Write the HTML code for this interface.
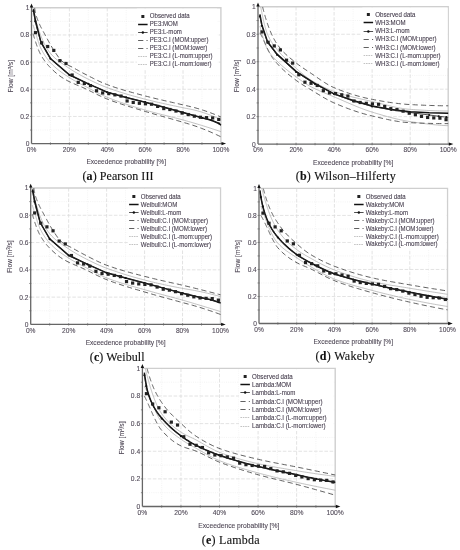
<!DOCTYPE html>
<html><head><meta charset="utf-8"><title>Flow duration curves</title><style>
html,body{margin:0;padding:0;background:#fff;}
svg{display:block;}
.gm{stroke:#ececec;stroke-width:0.6;stroke-dasharray:1 1.2;}
.gM{stroke:#d9d9d9;stroke-width:0.75;stroke-dasharray:3.6 1.6;}
.bd{fill:none;stroke:#cfcfcf;stroke-width:1.4;}
.ax{stroke:#666666;stroke-width:1.3;}
.tk{stroke:#666666;stroke-width:0.7;}
.tl{font-family:'Liberation Sans', Arial, sans-serif;fill:#514a58;stroke:#514a58;stroke-width:0.1px;}
.lg{font-family:'Liberation Sans', Arial, sans-serif;fill:#443c4c;stroke:#443c4c;stroke-width:0.1px;}
.cap{font-family:'Liberation Serif', 'Times New Roman', serif;font-size:12px;fill:#111;stroke:#111;stroke-width:0.12px;}
.ob{fill:#222;}
.mom{fill:none;stroke:#111;stroke-width:1.5;}
.lm{fill:none;stroke:#222;stroke-width:0.8;}
.dot{fill:#111;}
.cim{fill:none;stroke:#444;stroke-width:0.85;stroke-dasharray:5.2 3.2;}
.cil{fill:none;stroke:#9a9a9a;stroke-width:0.6;}
</style></head>
<body>
<svg width="460" height="550" viewBox="0 0 460 550">
<defs><clipPath id="clipPE3"><rect x="31.5" y="7.8" width="190.2" height="135.8"/></clipPath><clipPath id="clipWH3"><rect x="258" y="6.8" width="191" height="137.3"/></clipPath><clipPath id="clipWeibull"><rect x="30.7" y="188" width="190.6" height="136.4"/></clipPath><clipPath id="clipWakeby"><rect x="259" y="188.4" width="189.3" height="135.1"/></clipPath><clipPath id="clipLambda"><rect x="142.4" y="368.4" width="193.6" height="138.1"/></clipPath></defs>
<line x1="50.44" y1="7.8" x2="50.44" y2="143.6" class="gm"/>
<line x1="88.32" y1="7.8" x2="88.32" y2="143.6" class="gm"/>
<line x1="126.2" y1="7.8" x2="126.2" y2="143.6" class="gm"/>
<line x1="164.08" y1="7.8" x2="164.08" y2="143.6" class="gm"/>
<line x1="201.96" y1="7.8" x2="201.96" y2="143.6" class="gm"/>
<line x1="31.5" y1="130.02" x2="220.9" y2="130.02" class="gm"/>
<line x1="31.5" y1="102.86" x2="220.9" y2="102.86" class="gm"/>
<line x1="31.5" y1="75.7" x2="220.9" y2="75.7" class="gm"/>
<line x1="31.5" y1="48.54" x2="220.9" y2="48.54" class="gm"/>
<line x1="31.5" y1="21.38" x2="220.9" y2="21.38" class="gm"/>
<line x1="69.38" y1="7.8" x2="69.38" y2="143.6" class="gM"/>
<line x1="107.26" y1="7.8" x2="107.26" y2="143.6" class="gM"/>
<line x1="145.14" y1="7.8" x2="145.14" y2="143.6" class="gM"/>
<line x1="183.02" y1="7.8" x2="183.02" y2="143.6" class="gM"/>
<line x1="31.5" y1="116.44" x2="220.9" y2="116.44" class="gM"/>
<line x1="31.5" y1="89.28" x2="220.9" y2="89.28" class="gM"/>
<line x1="31.5" y1="62.12" x2="220.9" y2="62.12" class="gM"/>
<line x1="31.5" y1="34.96" x2="220.9" y2="34.96" class="gM"/>
<path d="M31.5,7.8 L220.9,7.8 L220.9,143.6" class="bd"/>
<g clip-path="url(#clipPE3)">
<path d="M33.76,7.8 L33.82,7.99 L33.89,8.46 L33.96,8.95 L34.03,9.45 L34.11,9.97 L34.19,10.5 L34.27,11.05 L34.35,11.6 L34.43,12.17 L34.52,12.75 L34.61,13.34 L34.7,13.93 L34.8,14.54 L34.89,15.14 L34.99,15.75 L35.1,16.35 L35.2,16.96 L35.31,17.55 L35.42,18.13 L35.54,18.69 L35.66,19.23 L35.78,19.74 L35.91,20.22 L36.04,20.7 L36.18,21.19 L36.31,21.69 L36.46,22.2 L36.6,22.73 L36.75,23.26 L36.91,23.8 L37.07,24.35 L37.23,24.91 L37.4,25.48 L37.58,26.06 L37.76,26.65 L37.94,27.25 L38.13,27.86 L38.33,28.48 L38.53,29.1 L38.74,29.74 L38.95,30.39 L39.17,31.04 L39.4,31.71 L39.63,32.38 L39.87,33.06 L40.12,33.75 L40.38,34.44 L40.64,35.15 L40.91,35.85 L41.19,36.57 L41.47,37.29 L41.77,38.02 L42.07,38.75 L42.39,39.48 L42.71,40.22 L43.04,40.96 L43.38,41.7 L43.73,42.45 L44.09,43.19 L44.47,43.94 L44.85,44.68 L45.24,45.42 L45.65,46.16 L46.07,46.9 L46.5,47.64 L46.94,48.37 L47.4,49.09 L47.87,49.81 L48.36,50.52 L48.85,51.23 L49.37,51.92 L49.9,52.61 L50.44,53.29 L52.6,55.75 L54.76,57.86 L56.91,59.71 L59.07,61.37 L61.23,62.9 L63.39,64.39 L65.54,65.88 L67.7,67.36 L69.86,68.79 L72.02,70.16 L74.17,71.48 L76.33,72.76 L78.49,74 L80.65,75.19 L82.81,76.36 L84.96,77.49 L87.12,78.6 L89.28,79.69 L91.44,80.76 L93.59,81.8 L95.75,82.82 L97.91,83.8 L100.07,84.75 L102.23,85.67 L104.38,86.54 L106.54,87.38 L108.7,88.18 L110.86,88.96 L113.01,89.71 L115.17,90.45 L117.33,91.17 L119.49,91.87 L121.64,92.56 L123.8,93.23 L125.96,93.88 L128.12,94.52 L130.28,95.15 L132.43,95.76 L134.59,96.37 L136.75,96.96 L138.91,97.55 L141.06,98.12 L143.22,98.69 L145.38,99.26 L147.54,99.81 L149.7,100.35 L151.85,100.87 L154.01,101.39 L156.17,101.9 L158.33,102.4 L160.48,102.89 L162.64,103.37 L164.8,103.85 L166.96,104.32 L169.11,104.79 L171.27,105.25 L173.43,105.71 L175.59,106.17 L177.75,106.63 L179.9,107.09 L182.06,107.54 L184.22,108 L186.38,108.42 L188.53,108.82 L190.69,109.24 L192.85,109.69 L195.01,110.21 L197.17,110.78 L199.32,111.39 L201.48,112.04 L203.64,112.73 L205.8,113.46 L207.95,114.23 L210.11,115.04 L212.27,115.9 L214.43,116.79 L216.58,117.72 L218.74,118.69 L220.9,119.7" class="cil"/>
<path d="M33.02,24.78 L33.06,24.93 L33.12,25.09 L33.17,25.26 L33.22,25.43 L33.28,25.61 L33.34,25.79 L33.4,25.98 L33.46,26.18 L33.52,26.38 L33.59,26.59 L33.65,26.8 L33.72,27.02 L33.8,27.25 L33.87,27.48 L33.95,27.72 L34.03,27.96 L34.11,28.22 L34.19,28.48 L34.28,28.76 L34.37,29.04 L34.47,29.34 L34.56,29.64 L34.66,29.96 L34.76,30.29 L34.87,30.63 L34.98,30.99 L35.09,31.35 L35.21,31.73 L35.33,32.12 L35.45,32.53 L35.58,32.95 L35.71,33.39 L35.85,33.84 L35.99,34.3 L36.14,34.78 L36.29,35.28 L36.45,35.79 L36.61,36.32 L36.77,36.86 L36.94,37.41 L37.12,37.98 L37.3,38.57 L37.49,39.17 L37.69,39.79 L37.89,40.41 L38.09,41.05 L38.31,41.7 L38.53,42.36 L38.76,43.03 L38.99,43.7 L39.24,44.38 L39.49,45.06 L39.75,45.74 L40.02,46.41 L40.29,47.07 L40.58,47.72 L40.87,48.34 L41.18,48.96 L41.49,49.57 L41.82,50.2 L42.15,50.82 L42.5,51.46 L42.86,52.1 L43.22,52.75 L43.61,53.4 L44,54.05 L44.41,54.71 L44.82,55.37 L45.26,56.04 L45.7,56.7 L46.17,57.37 L46.64,58.03 L47.13,58.7 L47.64,59.36 L48.17,60.03 L48.71,60.69 L49.27,61.35 L49.84,62.01 L50.44,62.67 L52.6,64.88 L54.76,66.91 L56.91,68.77 L59.07,70.5 L61.23,72.11 L63.39,73.63 L65.54,75.09 L67.7,76.5 L69.86,77.89 L72.02,79.22 L74.17,80.47 L76.33,81.66 L78.49,82.81 L80.65,83.94 L82.81,85.06 L84.96,86.18 L87.12,87.32 L89.28,88.47 L91.44,89.62 L93.59,90.76 L95.75,91.88 L97.91,92.98 L100.07,94.05 L102.23,95.08 L104.38,96.06 L106.54,96.99 L108.7,97.87 L110.86,98.73 L113.01,99.56 L115.17,100.37 L117.33,101.16 L119.49,101.93 L121.64,102.68 L123.8,103.42 L125.96,104.14 L128.12,104.84 L130.28,105.54 L132.43,106.22 L134.59,106.89 L136.75,107.55 L138.91,108.2 L141.06,108.85 L143.22,109.49 L145.38,110.13 L147.54,110.75 L149.7,111.36 L151.85,111.95 L154.01,112.53 L156.17,113.1 L158.33,113.65 L160.48,114.2 L162.64,114.75 L164.8,115.29 L166.96,115.83 L169.11,116.37 L171.27,116.91 L173.43,117.45 L175.59,118 L177.75,118.56 L179.9,119.13 L182.06,119.71 L184.22,120.3 L186.38,120.9 L188.53,121.5 L190.69,122.12 L192.85,122.74 L195.01,123.38 L197.17,124.03 L199.32,124.68 L201.48,125.35 L203.64,126.01 L205.8,126.69 L207.95,127.37 L210.11,128.06 L212.27,128.76 L214.43,129.47 L216.58,130.19 L218.74,130.91 L220.9,131.65" class="cil"/>
<path d="M34.61,7.8 L34.7,8.37 L34.8,9.02 L34.89,9.66 L34.99,10.29 L35.1,10.88 L35.2,11.45 L35.31,11.99 L35.42,12.51 L35.54,13.02 L35.66,13.53 L35.78,14.02 L35.91,14.51 L36.04,15 L36.18,15.47 L36.31,15.94 L36.46,16.41 L36.6,16.86 L36.75,17.31 L36.91,17.76 L37.07,18.21 L37.23,18.66 L37.4,19.11 L37.58,19.57 L37.76,20.04 L37.94,20.52 L38.13,21 L38.33,21.49 L38.53,21.98 L38.74,22.48 L38.95,22.98 L39.17,23.48 L39.4,23.99 L39.63,24.51 L39.87,25.02 L40.12,25.55 L40.38,26.08 L40.64,26.61 L40.91,27.15 L41.19,27.69 L41.47,28.24 L41.77,28.8 L42.07,29.37 L42.39,29.95 L42.71,30.54 L43.04,31.14 L43.38,31.75 L43.73,32.39 L44.09,33.04 L44.47,33.71 L44.85,34.41 L45.24,35.13 L45.65,35.89 L46.07,36.68 L46.5,37.49 L46.94,38.32 L47.4,39.17 L47.87,40.04 L48.36,40.93 L48.85,41.84 L49.37,42.78 L49.9,43.72 L50.44,44.68 L52.6,48.33 L54.76,51.66 L56.91,54.9 L59.07,57.94 L61.23,60.49 L63.39,62.34 L65.54,63.75 L67.7,64.91 L69.86,65.97 L72.02,67.04 L74.17,68.22 L76.33,69.42 L78.49,70.62 L80.65,71.81 L82.81,72.97 L84.96,74.1 L87.12,75.2 L89.28,76.32 L91.44,77.42 L93.59,78.52 L95.75,79.59 L97.91,80.64 L100.07,81.65 L102.23,82.61 L104.38,83.53 L106.54,84.39 L108.7,85.19 L110.86,85.97 L113.01,86.71 L115.17,87.43 L117.33,88.13 L119.49,88.81 L121.64,89.48 L123.8,90.12 L125.96,90.75 L128.12,91.36 L130.28,91.96 L132.43,92.56 L134.59,93.14 L136.75,93.72 L138.91,94.29 L141.06,94.86 L143.22,95.43 L145.38,96 L147.54,96.56 L149.7,97.11 L151.85,97.64 L154.01,98.17 L156.17,98.69 L158.33,99.2 L160.48,99.71 L162.64,100.21 L164.8,100.7 L166.96,101.19 L169.11,101.69 L171.27,102.18 L173.43,102.67 L175.59,103.16 L177.75,103.66 L179.9,104.16 L182.06,104.67 L184.22,105.18 L186.38,105.67 L188.53,106.16 L190.69,106.66 L192.85,107.19 L195.01,107.76 L197.17,108.38 L199.32,109.02 L201.48,109.69 L203.64,110.39 L205.8,111.11 L207.95,111.87 L210.11,112.65 L212.27,113.46 L214.43,114.29 L216.58,115.16 L218.74,116.06 L220.9,116.98" class="cim"/>
<path d="M33.02,33.6 L33.06,33.77 L33.12,33.94 L33.17,34.11 L33.22,34.3 L33.28,34.48 L33.34,34.68 L33.4,34.87 L33.46,35.08 L33.52,35.29 L33.59,35.51 L33.65,35.73 L33.72,35.96 L33.8,36.2 L33.87,36.44 L33.95,36.7 L34.03,36.96 L34.11,37.22 L34.19,37.5 L34.28,37.78 L34.37,38.07 L34.47,38.37 L34.56,38.68 L34.66,39 L34.76,39.32 L34.87,39.66 L34.98,40 L35.09,40.35 L35.21,40.71 L35.33,41.09 L35.45,41.47 L35.58,41.86 L35.71,42.26 L35.85,42.67 L35.99,43.09 L36.14,43.52 L36.29,43.96 L36.45,44.41 L36.61,44.87 L36.77,45.34 L36.94,45.82 L37.12,46.31 L37.3,46.81 L37.49,47.31 L37.69,47.83 L37.89,48.35 L38.09,48.88 L38.31,49.41 L38.53,49.95 L38.76,50.49 L38.99,51.04 L39.24,51.59 L39.49,52.14 L39.75,52.68 L40.02,53.23 L40.29,53.77 L40.58,54.3 L40.87,54.84 L41.18,55.39 L41.49,55.94 L41.82,56.49 L42.15,57.05 L42.5,57.61 L42.86,58.18 L43.22,58.75 L43.61,59.33 L44,59.9 L44.41,60.49 L44.82,61.07 L45.26,61.65 L45.7,62.24 L46.17,62.83 L46.64,63.42 L47.13,64.02 L47.64,64.62 L48.17,65.22 L48.71,65.82 L49.27,66.43 L49.84,67.04 L50.44,67.67 L52.6,69.82 L54.76,71.83 L56.91,73.69 L59.07,75.4 L61.23,76.96 L63.39,78.38 L65.54,79.66 L67.7,80.82 L69.86,81.9 L72.02,82.9 L74.17,83.84 L76.33,84.76 L78.49,85.66 L80.65,86.57 L82.81,87.51 L84.96,88.49 L87.12,89.52 L89.28,90.58 L91.44,91.65 L93.59,92.73 L95.75,93.81 L97.91,94.87 L100.07,95.91 L102.23,96.91 L104.38,97.87 L106.54,98.77 L108.7,99.62 L110.86,100.43 L113.01,101.23 L115.17,102 L117.33,102.74 L119.49,103.48 L121.64,104.19 L123.8,104.89 L125.96,105.57 L128.12,106.25 L130.28,106.92 L132.43,107.58 L134.59,108.23 L136.75,108.88 L138.91,109.53 L141.06,110.18 L143.22,110.83 L145.38,111.49 L147.54,112.14 L149.7,112.78 L151.85,113.41 L154.01,114.04 L156.17,114.65 L158.33,115.27 L160.48,115.87 L162.64,116.48 L164.8,117.08 L166.96,117.68 L169.11,118.29 L171.27,118.89 L173.43,119.5 L175.59,120.11 L177.75,120.73 L179.9,121.36 L182.06,121.99 L184.22,122.63 L186.38,123.27 L188.53,123.9 L190.69,124.56 L192.85,125.24 L195.01,125.97 L197.17,126.73 L199.32,127.52 L201.48,128.33 L203.64,129.16 L205.8,130.02 L207.95,130.91 L210.11,131.83 L212.27,132.77 L214.43,133.74 L216.58,134.73 L218.74,135.76 L220.9,136.81" class="cim"/>
<path d="M33.39,9.16 L35.29,20.02 L40.97,42.16 L50.44,58.45 L69.38,74.75 L88.32,83.85 L107.26,92.27 L126.2,97.43 L145.14,102.18 L164.08,107.34 L183.02,112.5 L201.96,117.8 L211.43,120.24 L219.01,123.5 L220.9,125.13" class="mom"/>
<path d="M33.39,11.2 L35.29,21.38 L37.18,29.12 L40.97,42.43 L50.44,58.73 L69.38,75.02 L88.32,83.85 L107.26,92.27 L126.2,97.43 L145.14,102.18 L164.08,107.34 L183.02,112.5 L201.96,117.8 L211.43,120.24 L219.01,123.5 L220.9,125.13" class="lm"/>
<circle cx="33.39" cy="11.2" r="1.1" class="dot"/>
<circle cx="35.29" cy="21.38" r="1.1" class="dot"/>
<circle cx="40.97" cy="42.43" r="1.1" class="dot"/>
<circle cx="50.44" cy="58.73" r="1.1" class="dot"/>
<circle cx="69.38" cy="75.02" r="1.1" class="dot"/>
<circle cx="88.32" cy="83.85" r="1.1" class="dot"/>
<circle cx="107.26" cy="92.27" r="1.1" class="dot"/>
<circle cx="126.2" cy="97.43" r="1.1" class="dot"/>
<circle cx="145.14" cy="102.18" r="1.1" class="dot"/>
<circle cx="164.08" cy="107.34" r="1.1" class="dot"/>
<circle cx="183.02" cy="112.5" r="1.1" class="dot"/>
<circle cx="201.96" cy="117.8" r="1.1" class="dot"/>
<circle cx="211.43" cy="120.24" r="1.1" class="dot"/>
<circle cx="219.01" cy="123.5" r="1.1" class="dot"/>
<rect x="33.87" y="31.05" width="3.2" height="3.2" class="ob"/>
<rect x="39.98" y="41.24" width="3.2" height="3.2" class="ob"/>
<rect x="46.09" y="44.9" width="3.2" height="3.2" class="ob"/>
<rect x="52.2" y="48.84" width="3.2" height="3.2" class="ob"/>
<rect x="58.31" y="59.03" width="3.2" height="3.2" class="ob"/>
<rect x="64.42" y="61.88" width="3.2" height="3.2" class="ob"/>
<rect x="70.53" y="73.42" width="3.2" height="3.2" class="ob"/>
<rect x="76.64" y="80.75" width="3.2" height="3.2" class="ob"/>
<rect x="82.75" y="81.84" width="3.2" height="3.2" class="ob"/>
<rect x="88.86" y="84.01" width="3.2" height="3.2" class="ob"/>
<rect x="94.97" y="89.17" width="3.2" height="3.2" class="ob"/>
<rect x="101.08" y="91.35" width="3.2" height="3.2" class="ob"/>
<rect x="107.19" y="92.03" width="3.2" height="3.2" class="ob"/>
<rect x="113.3" y="93.25" width="3.2" height="3.2" class="ob"/>
<rect x="119.41" y="94.47" width="3.2" height="3.2" class="ob"/>
<rect x="125.52" y="99.36" width="3.2" height="3.2" class="ob"/>
<rect x="131.63" y="100.85" width="3.2" height="3.2" class="ob"/>
<rect x="137.74" y="101.67" width="3.2" height="3.2" class="ob"/>
<rect x="143.85" y="102.21" width="3.2" height="3.2" class="ob"/>
<rect x="149.96" y="102.62" width="3.2" height="3.2" class="ob"/>
<rect x="156.06" y="104.79" width="3.2" height="3.2" class="ob"/>
<rect x="162.17" y="106.96" width="3.2" height="3.2" class="ob"/>
<rect x="168.28" y="107.91" width="3.2" height="3.2" class="ob"/>
<rect x="174.39" y="109.41" width="3.2" height="3.2" class="ob"/>
<rect x="180.5" y="111.45" width="3.2" height="3.2" class="ob"/>
<rect x="186.61" y="112.94" width="3.2" height="3.2" class="ob"/>
<rect x="192.72" y="114.57" width="3.2" height="3.2" class="ob"/>
<rect x="198.83" y="115.65" width="3.2" height="3.2" class="ob"/>
<rect x="204.94" y="116.06" width="3.2" height="3.2" class="ob"/>
<rect x="211.05" y="116.33" width="3.2" height="3.2" class="ob"/>
<rect x="217.16" y="117.83" width="3.2" height="3.2" class="ob"/>
</g>
<line x1="31.5" y1="143.6" x2="222.9" y2="143.6" class="ax"/>
<line x1="31.5" y1="143.6" x2="31.5" y2="5.8" class="ax"/>
<path d="M226.1,143.6 L221.5,141.9 L221.5,145.3 Z" fill="#111"/>
<path d="M31.5,3.5 L29.8,7.4 L33.2,7.4 Z" fill="#111"/>
<line x1="50.44" y1="142.4" x2="50.44" y2="144.8" class="tk"/>
<line x1="69.38" y1="142.4" x2="69.38" y2="144.8" class="tk"/>
<line x1="88.32" y1="142.4" x2="88.32" y2="144.8" class="tk"/>
<line x1="107.26" y1="142.4" x2="107.26" y2="144.8" class="tk"/>
<line x1="126.2" y1="142.4" x2="126.2" y2="144.8" class="tk"/>
<line x1="145.14" y1="142.4" x2="145.14" y2="144.8" class="tk"/>
<line x1="164.08" y1="142.4" x2="164.08" y2="144.8" class="tk"/>
<line x1="183.02" y1="142.4" x2="183.02" y2="144.8" class="tk"/>
<line x1="201.96" y1="142.4" x2="201.96" y2="144.8" class="tk"/>
<line x1="30" y1="130.02" x2="32.1" y2="130.02" class="tk"/>
<line x1="30" y1="116.44" x2="32.1" y2="116.44" class="tk"/>
<line x1="30" y1="102.86" x2="32.1" y2="102.86" class="tk"/>
<line x1="30" y1="89.28" x2="32.1" y2="89.28" class="tk"/>
<line x1="30" y1="75.7" x2="32.1" y2="75.7" class="tk"/>
<line x1="30" y1="62.12" x2="32.1" y2="62.12" class="tk"/>
<line x1="30" y1="48.54" x2="32.1" y2="48.54" class="tk"/>
<line x1="30" y1="34.96" x2="32.1" y2="34.96" class="tk"/>
<line x1="30" y1="21.38" x2="32.1" y2="21.38" class="tk"/>
<text x="31.5" y="151.9" class="tl" font-size="6.6" text-anchor="middle">0%</text>
<text x="69.38" y="151.9" class="tl" font-size="6.6" text-anchor="middle">20%</text>
<text x="107.26" y="151.9" class="tl" font-size="6.6" text-anchor="middle">40%</text>
<text x="145.14" y="151.9" class="tl" font-size="6.6" text-anchor="middle">60%</text>
<text x="183.02" y="151.9" class="tl" font-size="6.6" text-anchor="middle">80%</text>
<text x="220.9" y="151.9" class="tl" font-size="6.6" text-anchor="middle">100%</text>
<text x="29.3" y="146" class="tl" font-size="6.6" text-anchor="end">0</text>
<text x="29.3" y="118.84" class="tl" font-size="6.6" text-anchor="end">0.2</text>
<text x="29.3" y="91.68" class="tl" font-size="6.6" text-anchor="end">0.4</text>
<text x="29.3" y="64.52" class="tl" font-size="6.6" text-anchor="end">0.6</text>
<text x="29.3" y="37.36" class="tl" font-size="6.6" text-anchor="end">0.8</text>
<text x="29.3" y="10.2" class="tl" font-size="6.6" text-anchor="end">1</text>
<text x="126.2" y="164.2" class="tl" font-size="6.6" text-anchor="middle">Exceedence probability [%]</text>
<text transform="translate(12.8,76.2) rotate(-90)" class="tl" font-size="6.6" text-anchor="middle">Flow [m<tspan font-size="4.4" dy="-2.2">3</tspan><tspan dy="2.2">/s]</tspan></text>
<text x="118" y="179.8" class="cap" text-anchor="middle" textLength="71" lengthAdjust="spacing">(<tspan font-weight="bold">a</tspan>) Pearson III</text>
<rect x="136.8" y="8.6" width="80.2" height="60.3" fill="#fff"/>
<text transform="translate(149.8,18.45) scale(0.9,1)" class="lg" font-size="6.75">Observed data</text>
<rect x="141.35" y="15" width="3" height="3" class="ob"/>
<text transform="translate(149.8,26.45) scale(0.9,1)" class="lg" font-size="6.75">PE3:MOM</text>
<line x1="138.1" y1="24.5" x2="147.6" y2="24.5" class="mom"/>
<text transform="translate(149.8,34.45) scale(0.9,1)" class="lg" font-size="6.75">PE3:L-mom</text>
<line x1="138.1" y1="32.5" x2="147.6" y2="32.5" class="lm" stroke-width="1"/>
<circle cx="142.85" cy="32.5" r="1.2" class="dot"/>
<text transform="translate(149.8,42.45) scale(0.9,1)" class="lg" font-size="6.75">PE3:C.I (MOM:upper)</text>
<line x1="138.1" y1="40.5" x2="147.6" y2="40.5" class="cim" stroke-dasharray="5 2.4" stroke-width="1"/>
<text transform="translate(149.8,50.45) scale(0.9,1)" class="lg" font-size="6.75">PE3:C.I (MOM:lower)</text>
<line x1="138.1" y1="48.5" x2="147.6" y2="48.5" class="cim" stroke-dasharray="5 2.4" stroke-width="1"/>
<text transform="translate(149.8,58.45) scale(0.9,1)" class="lg" font-size="6.75">PE3:C.I (L-mom:upper)</text>
<line x1="138.1" y1="56.5" x2="147.6" y2="56.5" class="cil" stroke-dasharray="1.6 0.8" stroke-width="1" stroke="#a0a0a0"/>
<text transform="translate(149.8,66.45) scale(0.9,1)" class="lg" font-size="6.75">PE3:C.I (L-mom:lower)</text>
<line x1="138.1" y1="64.5" x2="147.6" y2="64.5" class="cil" stroke-dasharray="1.6 0.8" stroke-width="1" stroke="#a0a0a0"/>
<line x1="277.02" y1="6.8" x2="277.02" y2="144.1" class="gm"/>
<line x1="315.06" y1="6.8" x2="315.06" y2="144.1" class="gm"/>
<line x1="353.1" y1="6.8" x2="353.1" y2="144.1" class="gm"/>
<line x1="391.14" y1="6.8" x2="391.14" y2="144.1" class="gm"/>
<line x1="429.18" y1="6.8" x2="429.18" y2="144.1" class="gm"/>
<line x1="258" y1="130.37" x2="448.2" y2="130.37" class="gm"/>
<line x1="258" y1="102.91" x2="448.2" y2="102.91" class="gm"/>
<line x1="258" y1="75.45" x2="448.2" y2="75.45" class="gm"/>
<line x1="258" y1="47.99" x2="448.2" y2="47.99" class="gm"/>
<line x1="258" y1="20.53" x2="448.2" y2="20.53" class="gm"/>
<line x1="296.04" y1="6.8" x2="296.04" y2="144.1" class="gM"/>
<line x1="334.08" y1="6.8" x2="334.08" y2="144.1" class="gM"/>
<line x1="372.12" y1="6.8" x2="372.12" y2="144.1" class="gM"/>
<line x1="410.16" y1="6.8" x2="410.16" y2="144.1" class="gM"/>
<line x1="258" y1="116.64" x2="448.2" y2="116.64" class="gM"/>
<line x1="258" y1="89.18" x2="448.2" y2="89.18" class="gM"/>
<line x1="258" y1="61.72" x2="448.2" y2="61.72" class="gM"/>
<line x1="258" y1="34.26" x2="448.2" y2="34.26" class="gM"/>
<path d="M258,6.8 L448.2,6.8 L448.2,144.1" class="bd"/>
<g clip-path="url(#clipWH3)">
<path d="M260.62,6.8 L260.7,6.85 L260.78,7.26 L260.86,7.68 L260.94,8.12 L261.03,8.56 L261.12,9.02 L261.21,9.49 L261.31,9.97 L261.41,10.46 L261.51,10.97 L261.61,11.49 L261.72,12.02 L261.83,12.56 L261.94,13.12 L262.06,13.69 L262.18,14.27 L262.3,14.86 L262.43,15.47 L262.56,16.09 L262.69,16.72 L262.83,17.37 L262.98,18.03 L263.12,18.7 L263.28,19.38 L263.43,20.08 L263.59,20.78 L263.76,21.5 L263.93,22.23 L264.1,22.96 L264.28,23.71 L264.47,24.46 L264.66,25.22 L264.86,25.98 L265.06,26.75 L265.27,27.51 L265.48,28.28 L265.71,29.05 L265.93,29.81 L266.17,30.56 L266.41,31.31 L266.66,32.04 L266.91,32.76 L267.18,33.45 L267.45,34.12 L267.73,34.77 L268.02,35.41 L268.31,36.06 L268.62,36.7 L268.93,37.35 L269.26,37.99 L269.59,38.63 L269.93,39.27 L270.28,39.9 L270.65,40.53 L271.02,41.16 L271.41,41.78 L271.8,42.4 L272.21,43.02 L272.63,43.64 L273.06,44.25 L273.51,44.87 L273.97,45.49 L274.44,46.11 L274.93,46.74 L275.43,47.37 L275.94,48.02 L276.47,48.68 L277.02,49.36 L279.19,51.97 L281.35,54.4 L283.52,56.68 L285.69,58.83 L287.85,60.88 L290.02,62.85 L292.19,64.78 L294.35,66.69 L296.52,68.6 L298.69,70.52 L300.86,72.43 L303.02,74.28 L305.19,76.04 L307.36,77.68 L309.52,79.17 L311.69,80.53 L313.86,81.84 L316.02,83.1 L318.19,84.31 L320.36,85.47 L322.52,86.58 L324.69,87.63 L326.86,88.62 L329.02,89.56 L331.19,90.44 L333.36,91.26 L335.52,92.02 L337.69,92.74 L339.86,93.43 L342.03,94.1 L344.19,94.73 L346.36,95.34 L348.53,95.93 L350.69,96.5 L352.86,97.05 L355.03,97.58 L357.19,98.1 L359.36,98.61 L361.53,99.12 L363.69,99.61 L365.86,100.11 L368.03,100.6 L370.19,101.09 L372.36,101.59 L374.53,102.1 L376.69,102.63 L378.86,103.17 L381.03,103.72 L383.19,104.26 L385.36,104.81 L387.53,105.34 L389.7,105.87 L391.86,106.38 L394.03,106.86 L396.2,107.32 L398.36,107.75 L400.53,108.15 L402.7,108.5 L404.86,108.82 L407.03,109.08 L409.2,109.29 L411.36,109.45 L413.53,109.6 L415.7,109.75 L417.86,109.89 L420.03,110.03 L422.2,110.16 L424.36,110.28 L426.53,110.4 L428.7,110.5 L430.87,110.6 L433.03,110.69 L435.2,110.77 L437.37,110.84 L439.53,110.9 L441.7,110.95 L443.87,110.98 L446.03,111 L448.2,111.01" class="cil"/>
<path d="M259.9,26.02 L259.96,26.24 L260.02,26.47 L260.08,26.7 L260.14,26.93 L260.2,27.18 L260.27,27.43 L260.33,27.69 L260.4,27.95 L260.47,28.22 L260.55,28.5 L260.62,28.79 L260.7,29.08 L260.78,29.39 L260.86,29.7 L260.94,30.02 L261.03,30.34 L261.12,30.68 L261.21,31.02 L261.31,31.38 L261.41,31.74 L261.51,32.11 L261.61,32.49 L261.72,32.88 L261.83,33.28 L261.94,33.69 L262.06,34.11 L262.18,34.53 L262.3,34.97 L262.43,35.42 L262.56,35.87 L262.69,36.34 L262.83,36.82 L262.98,37.3 L263.12,37.79 L263.28,38.3 L263.43,38.81 L263.59,39.33 L263.76,39.86 L263.93,40.39 L264.1,40.94 L264.28,41.49 L264.47,42.04 L264.66,42.6 L264.86,43.17 L265.06,43.73 L265.27,44.3 L265.48,44.87 L265.71,45.45 L265.93,46.01 L266.17,46.58 L266.41,47.13 L266.66,47.68 L266.91,48.22 L267.18,48.75 L267.45,49.25 L267.73,49.75 L268.02,50.24 L268.31,50.73 L268.62,51.23 L268.93,51.72 L269.26,52.21 L269.59,52.69 L269.93,53.18 L270.28,53.66 L270.65,54.14 L271.02,54.62 L271.41,55.1 L271.8,55.58 L272.21,56.05 L272.63,56.53 L273.06,57 L273.51,57.48 L273.97,57.96 L274.44,58.45 L274.93,58.94 L275.43,59.44 L275.94,59.95 L276.47,60.48 L277.02,61.03 L279.19,63.16 L281.35,65.17 L283.52,67.08 L285.69,68.89 L287.85,70.63 L290.02,72.32 L292.19,73.96 L294.35,75.58 L296.52,77.18 L298.69,78.77 L300.86,80.34 L303.02,81.86 L305.19,83.31 L307.36,84.68 L309.52,85.94 L311.69,87.1 L313.86,88.19 L316.02,89.23 L318.19,90.22 L320.36,91.18 L322.52,92.1 L324.69,93 L326.86,93.89 L329.02,94.78 L331.19,95.67 L333.36,96.56 L335.52,97.48 L337.69,98.41 L339.86,99.34 L342.03,100.28 L344.19,101.22 L346.36,102.16 L348.53,103.1 L350.69,104.02 L352.86,104.94 L355.03,105.84 L357.19,106.72 L359.36,107.59 L361.53,108.43 L363.69,109.24 L365.86,110.03 L368.03,110.78 L370.19,111.5 L372.36,112.18 L374.53,112.85 L376.69,113.5 L378.86,114.15 L381.03,114.79 L383.19,115.41 L385.36,116.03 L387.53,116.63 L389.7,117.21 L391.86,117.77 L394.03,118.32 L396.2,118.84 L398.36,119.34 L400.53,119.82 L402.7,120.27 L404.86,120.69 L407.03,121.08 L409.2,121.43 L411.36,121.76 L413.53,122.09 L415.7,122.4 L417.86,122.71 L420.03,123.02 L422.2,123.31 L424.36,123.59 L426.53,123.86 L428.7,124.12 L430.87,124.37 L433.03,124.6 L435.2,124.82 L437.37,125.01 L439.53,125.19 L441.7,125.35 L443.87,125.49 L446.03,125.61 L448.2,125.7" class="cil"/>
<path d="M262.56,6.8 L262.69,7.32 L262.83,7.87 L262.98,8.43 L263.12,9 L263.28,9.58 L263.43,10.18 L263.59,10.79 L263.76,11.4 L263.93,12.03 L264.1,12.68 L264.28,13.33 L264.47,13.99 L264.66,14.67 L264.86,15.36 L265.06,16.06 L265.27,16.77 L265.48,17.49 L265.71,18.22 L265.93,18.97 L266.17,19.72 L266.41,20.48 L266.66,21.26 L266.91,22.04 L267.18,22.83 L267.45,23.64 L267.73,24.45 L268.02,25.26 L268.31,26.09 L268.62,26.92 L268.93,27.76 L269.26,28.61 L269.59,29.46 L269.93,30.31 L270.28,31.17 L270.65,32.04 L271.02,32.9 L271.41,33.77 L271.8,34.64 L272.21,35.51 L272.63,36.37 L273.06,37.24 L273.51,38.1 L273.97,38.96 L274.44,39.82 L274.93,40.67 L275.43,41.51 L275.94,42.35 L276.47,43.18 L277.02,44 L279.19,47.01 L281.35,49.67 L283.52,52.05 L285.69,54.19 L287.85,56.16 L290.02,58 L292.19,59.77 L294.35,61.52 L296.52,63.27 L298.69,64.92 L300.86,66.49 L303.02,67.99 L305.19,69.44 L307.36,70.87 L309.52,72.3 L311.69,73.75 L313.86,75.24 L316.02,76.75 L318.19,78.25 L320.36,79.74 L322.52,81.2 L324.69,82.6 L326.86,83.93 L329.02,85.18 L331.19,86.33 L333.36,87.36 L335.52,88.27 L337.69,89.16 L339.86,90.01 L342.03,90.84 L344.19,91.63 L346.36,92.4 L348.53,93.14 L350.69,93.85 L352.86,94.54 L355.03,95.19 L357.19,95.82 L359.36,96.41 L361.53,96.98 L363.69,97.52 L365.86,98.03 L368.03,98.51 L370.19,98.96 L372.36,99.39 L374.53,99.79 L376.69,100.19 L378.86,100.59 L381.03,100.97 L383.19,101.34 L385.36,101.71 L387.53,102.05 L389.7,102.39 L391.86,102.7 L394.03,103 L396.2,103.29 L398.36,103.55 L400.53,103.79 L402.7,104 L404.86,104.2 L407.03,104.36 L409.2,104.5 L411.36,104.62 L413.53,104.73 L415.7,104.84 L417.86,104.95 L420.03,105.05 L422.2,105.15 L424.36,105.24 L426.53,105.33 L428.7,105.41 L430.87,105.48 L433.03,105.55 L435.2,105.61 L437.37,105.67 L439.53,105.71 L441.7,105.75 L443.87,105.77 L446.03,105.79 L448.2,105.79" class="cim"/>
<path d="M259.9,32.89 L259.96,32.98 L260.02,33.08 L260.08,33.18 L260.14,33.29 L260.2,33.4 L260.27,33.51 L260.33,33.62 L260.4,33.74 L260.47,33.86 L260.55,33.99 L260.62,34.12 L260.7,34.26 L260.78,34.4 L260.86,34.55 L260.94,34.7 L261.03,34.86 L261.12,35.03 L261.21,35.2 L261.31,35.38 L261.41,35.57 L261.51,35.76 L261.61,35.97 L261.72,36.18 L261.83,36.39 L261.94,36.62 L262.06,36.85 L262.18,37.09 L262.3,37.34 L262.43,37.61 L262.56,37.88 L262.69,38.16 L262.83,38.45 L262.98,38.75 L263.12,39.06 L263.28,39.39 L263.43,39.72 L263.59,40.07 L263.76,40.43 L263.93,40.8 L264.1,41.19 L264.28,41.59 L264.47,42 L264.66,42.42 L264.86,42.86 L265.06,43.32 L265.27,43.78 L265.48,44.27 L265.71,44.76 L265.93,45.27 L266.17,45.8 L266.41,46.34 L266.66,46.89 L266.91,47.45 L267.18,48.03 L267.45,48.62 L267.73,49.23 L268.02,49.84 L268.31,50.46 L268.62,51.09 L268.93,51.73 L269.26,52.38 L269.59,53.02 L269.93,53.67 L270.28,54.32 L270.65,54.96 L271.02,55.59 L271.41,56.21 L271.8,56.81 L272.21,57.39 L272.63,57.96 L273.06,58.53 L273.51,59.11 L273.97,59.7 L274.44,60.3 L274.93,60.9 L275.43,61.51 L275.94,62.13 L276.47,62.75 L277.02,63.38 L279.19,65.76 L281.35,67.98 L283.52,70.06 L285.69,72 L287.85,73.85 L290.02,75.61 L292.19,77.32 L294.35,78.98 L296.52,80.62 L298.69,82.17 L300.86,83.62 L303.02,85 L305.19,86.33 L307.36,87.63 L309.52,88.94 L311.69,90.26 L313.86,91.59 L316.02,92.93 L318.19,94.26 L320.36,95.58 L322.52,96.87 L324.69,98.12 L326.86,99.33 L329.02,100.49 L331.19,101.58 L333.36,102.59 L335.52,103.54 L337.69,104.46 L339.86,105.36 L342.03,106.24 L344.19,107.1 L346.36,107.94 L348.53,108.75 L350.69,109.54 L352.86,110.31 L355.03,111.05 L357.19,111.77 L359.36,112.46 L361.53,113.12 L363.69,113.76 L365.86,114.37 L368.03,114.94 L370.19,115.49 L372.36,116.01 L374.53,116.52 L376.69,117.03 L378.86,117.53 L381.03,118.04 L383.19,118.53 L385.36,119.01 L387.53,119.48 L389.7,119.93 L391.86,120.36 L394.03,120.76 L396.2,121.14 L398.36,121.48 L400.53,121.79 L402.7,122.07 L404.86,122.3 L407.03,122.49 L409.2,122.63 L411.36,122.73 L413.53,122.83 L415.7,122.92 L417.86,123 L420.03,123.08 L422.2,123.16 L424.36,123.23 L426.53,123.3 L428.7,123.36 L430.87,123.42 L433.03,123.47 L435.2,123.51 L437.37,123.55 L439.53,123.58 L441.7,123.61 L443.87,123.63 L446.03,123.64 L448.2,123.64" class="cim"/>
<path d="M259.9,14.35 L261.8,24.65 L267.51,41.81 L277.02,54.17 L296.04,71.33 L315.06,83.69 L334.08,93.85 L353.1,100.44 L372.12,106.07 L391.14,109.5 L410.16,111.83 L429.18,112.8 L448.2,113.34" class="mom"/>
<path d="M259.9,16.41 L261.8,25.75 L267.51,42.22 L277.02,54.86 L296.04,72.02 L315.06,84.1 L334.08,94.12 L353.1,100.99 L372.12,106.48 L391.14,109.78 L410.16,112.52 L429.18,114.99 L438.69,116.23 L446.3,117.19 L448.2,117.33" class="lm"/>
<circle cx="259.9" cy="16.41" r="1.1" class="dot"/>
<circle cx="261.8" cy="25.75" r="1.1" class="dot"/>
<circle cx="267.51" cy="42.22" r="1.1" class="dot"/>
<circle cx="277.02" cy="54.86" r="1.1" class="dot"/>
<circle cx="296.04" cy="72.02" r="1.1" class="dot"/>
<circle cx="315.06" cy="84.1" r="1.1" class="dot"/>
<circle cx="334.08" cy="94.12" r="1.1" class="dot"/>
<circle cx="353.1" cy="100.99" r="1.1" class="dot"/>
<circle cx="372.12" cy="106.48" r="1.1" class="dot"/>
<circle cx="391.14" cy="109.78" r="1.1" class="dot"/>
<circle cx="410.16" cy="112.52" r="1.1" class="dot"/>
<circle cx="429.18" cy="114.99" r="1.1" class="dot"/>
<circle cx="438.69" cy="116.23" r="1.1" class="dot"/>
<circle cx="446.3" cy="117.19" r="1.1" class="dot"/>
<rect x="260.39" y="30.33" width="3.2" height="3.2" class="ob"/>
<rect x="266.52" y="40.62" width="3.2" height="3.2" class="ob"/>
<rect x="272.66" y="44.33" width="3.2" height="3.2" class="ob"/>
<rect x="278.79" y="48.31" width="3.2" height="3.2" class="ob"/>
<rect x="284.93" y="58.61" width="3.2" height="3.2" class="ob"/>
<rect x="291.07" y="61.49" width="3.2" height="3.2" class="ob"/>
<rect x="297.2" y="73.16" width="3.2" height="3.2" class="ob"/>
<rect x="303.34" y="80.58" width="3.2" height="3.2" class="ob"/>
<rect x="309.47" y="81.68" width="3.2" height="3.2" class="ob"/>
<rect x="315.61" y="83.87" width="3.2" height="3.2" class="ob"/>
<rect x="321.74" y="89.09" width="3.2" height="3.2" class="ob"/>
<rect x="327.88" y="91.29" width="3.2" height="3.2" class="ob"/>
<rect x="334.01" y="91.97" width="3.2" height="3.2" class="ob"/>
<rect x="340.15" y="93.21" width="3.2" height="3.2" class="ob"/>
<rect x="346.28" y="94.45" width="3.2" height="3.2" class="ob"/>
<rect x="352.42" y="99.39" width="3.2" height="3.2" class="ob"/>
<rect x="358.56" y="100.9" width="3.2" height="3.2" class="ob"/>
<rect x="364.69" y="101.72" width="3.2" height="3.2" class="ob"/>
<rect x="370.83" y="102.27" width="3.2" height="3.2" class="ob"/>
<rect x="376.96" y="102.68" width="3.2" height="3.2" class="ob"/>
<rect x="383.1" y="104.88" width="3.2" height="3.2" class="ob"/>
<rect x="389.23" y="107.08" width="3.2" height="3.2" class="ob"/>
<rect x="395.37" y="108.04" width="3.2" height="3.2" class="ob"/>
<rect x="401.5" y="109.55" width="3.2" height="3.2" class="ob"/>
<rect x="407.64" y="111.61" width="3.2" height="3.2" class="ob"/>
<rect x="413.78" y="113.12" width="3.2" height="3.2" class="ob"/>
<rect x="419.91" y="114.77" width="3.2" height="3.2" class="ob"/>
<rect x="426.05" y="115.86" width="3.2" height="3.2" class="ob"/>
<rect x="432.18" y="116.28" width="3.2" height="3.2" class="ob"/>
<rect x="438.32" y="116.55" width="3.2" height="3.2" class="ob"/>
<rect x="444.45" y="118.06" width="3.2" height="3.2" class="ob"/>
</g>
<line x1="258" y1="144.1" x2="450.2" y2="144.1" class="ax"/>
<line x1="258" y1="144.1" x2="258" y2="4.8" class="ax"/>
<path d="M453.4,144.1 L448.8,142.4 L448.8,145.8 Z" fill="#111"/>
<path d="M258,2.5 L256.3,6.4 L259.7,6.4 Z" fill="#111"/>
<line x1="277.02" y1="142.9" x2="277.02" y2="145.3" class="tk"/>
<line x1="296.04" y1="142.9" x2="296.04" y2="145.3" class="tk"/>
<line x1="315.06" y1="142.9" x2="315.06" y2="145.3" class="tk"/>
<line x1="334.08" y1="142.9" x2="334.08" y2="145.3" class="tk"/>
<line x1="353.1" y1="142.9" x2="353.1" y2="145.3" class="tk"/>
<line x1="372.12" y1="142.9" x2="372.12" y2="145.3" class="tk"/>
<line x1="391.14" y1="142.9" x2="391.14" y2="145.3" class="tk"/>
<line x1="410.16" y1="142.9" x2="410.16" y2="145.3" class="tk"/>
<line x1="429.18" y1="142.9" x2="429.18" y2="145.3" class="tk"/>
<line x1="256.5" y1="130.37" x2="258.6" y2="130.37" class="tk"/>
<line x1="256.5" y1="116.64" x2="258.6" y2="116.64" class="tk"/>
<line x1="256.5" y1="102.91" x2="258.6" y2="102.91" class="tk"/>
<line x1="256.5" y1="89.18" x2="258.6" y2="89.18" class="tk"/>
<line x1="256.5" y1="75.45" x2="258.6" y2="75.45" class="tk"/>
<line x1="256.5" y1="61.72" x2="258.6" y2="61.72" class="tk"/>
<line x1="256.5" y1="47.99" x2="258.6" y2="47.99" class="tk"/>
<line x1="256.5" y1="34.26" x2="258.6" y2="34.26" class="tk"/>
<line x1="256.5" y1="20.53" x2="258.6" y2="20.53" class="tk"/>
<text x="258" y="152.48" class="tl" font-size="6.67" text-anchor="middle">0%</text>
<text x="296.04" y="152.48" class="tl" font-size="6.67" text-anchor="middle">20%</text>
<text x="334.08" y="152.48" class="tl" font-size="6.67" text-anchor="middle">40%</text>
<text x="372.12" y="152.48" class="tl" font-size="6.67" text-anchor="middle">60%</text>
<text x="410.16" y="152.48" class="tl" font-size="6.67" text-anchor="middle">80%</text>
<text x="448.2" y="152.48" class="tl" font-size="6.67" text-anchor="middle">100%</text>
<text x="255.8" y="146.5" class="tl" font-size="6.67" text-anchor="end">0</text>
<text x="255.8" y="119.04" class="tl" font-size="6.67" text-anchor="end">0.2</text>
<text x="255.8" y="91.58" class="tl" font-size="6.67" text-anchor="end">0.4</text>
<text x="255.8" y="64.12" class="tl" font-size="6.67" text-anchor="end">0.6</text>
<text x="255.8" y="36.66" class="tl" font-size="6.67" text-anchor="end">0.8</text>
<text x="255.8" y="9.2" class="tl" font-size="6.67" text-anchor="end">1</text>
<text x="353.1" y="164.5" class="tl" font-size="6.67" text-anchor="middle">Exceedence probability [%]</text>
<text transform="translate(239.3,75.95) rotate(-90)" class="tl" font-size="6.67" text-anchor="middle">Flow [m<tspan font-size="4.44" dy="-2.2">3</tspan><tspan dy="2.2">/s]</tspan></text>
<text x="345.7" y="179.9" class="cap" text-anchor="middle" textLength="100" lengthAdjust="spacing">(<tspan font-weight="bold">b</tspan>) Wilson–Hilferty</text>
<rect x="362.3" y="7.6" width="85.4" height="60.6" fill="#fff"/>
<text transform="translate(375.3,17.17) scale(0.9,1)" class="lg" font-size="6.82">Observed data</text>
<rect x="366.85" y="13" width="3" height="3" class="ob"/>
<text transform="translate(375.3,25.27) scale(0.9,1)" class="lg" font-size="6.82">WH3:MOM</text>
<line x1="363.6" y1="22.5" x2="373.1" y2="22.5" class="mom"/>
<text transform="translate(375.3,33.37) scale(0.9,1)" class="lg" font-size="6.82">WH3:L-mom</text>
<line x1="363.6" y1="31.5" x2="373.1" y2="31.5" class="lm" stroke-width="1"/>
<circle cx="368.35" cy="31.5" r="1.2" class="dot"/>
<text transform="translate(375.3,41.47) scale(0.9,1)" class="lg" font-size="6.82">WH3:C.I (MOM:upper)</text>
<line x1="363.6" y1="39.5" x2="373.1" y2="39.5" class="cim" stroke-dasharray="5 2.4" stroke-width="1"/>
<text transform="translate(375.3,49.57) scale(0.9,1)" class="lg" font-size="6.82">WH3:C.I (MOM:lower)</text>
<line x1="363.6" y1="47.5" x2="373.1" y2="47.5" class="cim" stroke-dasharray="5 2.4" stroke-width="1"/>
<text transform="translate(375.3,57.67) scale(0.9,1)" class="lg" font-size="6.82">WH3:C.I (L-mom:upper)</text>
<line x1="363.6" y1="55.5" x2="373.1" y2="55.5" class="cil" stroke-dasharray="1.6 0.8" stroke-width="1" stroke="#a0a0a0"/>
<text transform="translate(375.3,65.77) scale(0.9,1)" class="lg" font-size="6.82">WH3:C.I (L-mom:lower)</text>
<line x1="363.6" y1="63.5" x2="373.1" y2="63.5" class="cil" stroke-dasharray="1.6 0.8" stroke-width="1" stroke="#a0a0a0"/>
<line x1="49.68" y1="188" x2="49.68" y2="324.4" class="gm"/>
<line x1="87.64" y1="188" x2="87.64" y2="324.4" class="gm"/>
<line x1="125.6" y1="188" x2="125.6" y2="324.4" class="gm"/>
<line x1="163.56" y1="188" x2="163.56" y2="324.4" class="gm"/>
<line x1="201.52" y1="188" x2="201.52" y2="324.4" class="gm"/>
<line x1="30.7" y1="310.76" x2="220.5" y2="310.76" class="gm"/>
<line x1="30.7" y1="283.48" x2="220.5" y2="283.48" class="gm"/>
<line x1="30.7" y1="256.2" x2="220.5" y2="256.2" class="gm"/>
<line x1="30.7" y1="228.92" x2="220.5" y2="228.92" class="gm"/>
<line x1="30.7" y1="201.64" x2="220.5" y2="201.64" class="gm"/>
<line x1="68.66" y1="188" x2="68.66" y2="324.4" class="gM"/>
<line x1="106.62" y1="188" x2="106.62" y2="324.4" class="gM"/>
<line x1="144.58" y1="188" x2="144.58" y2="324.4" class="gM"/>
<line x1="182.54" y1="188" x2="182.54" y2="324.4" class="gM"/>
<line x1="30.7" y1="297.12" x2="220.5" y2="297.12" class="gM"/>
<line x1="30.7" y1="269.84" x2="220.5" y2="269.84" class="gM"/>
<line x1="30.7" y1="242.56" x2="220.5" y2="242.56" class="gM"/>
<line x1="30.7" y1="215.28" x2="220.5" y2="215.28" class="gM"/>
<path d="M30.7,188 L220.5,188 L220.5,324.4" class="bd"/>
<g clip-path="url(#clipWeibull)">
<path d="M32.96,188 L33.03,188.19 L33.1,188.67 L33.17,189.16 L33.24,189.66 L33.32,190.18 L33.39,190.71 L33.47,191.26 L33.55,191.82 L33.64,192.39 L33.73,192.97 L33.82,193.56 L33.91,194.16 L34,194.77 L34.1,195.37 L34.2,195.98 L34.3,196.59 L34.41,197.2 L34.52,197.79 L34.63,198.38 L34.75,198.94 L34.87,199.48 L34.99,200 L35.12,200.48 L35.25,200.96 L35.38,201.45 L35.52,201.96 L35.67,202.47 L35.81,202.99 L35.96,203.52 L36.12,204.07 L36.28,204.62 L36.45,205.18 L36.62,205.76 L36.79,206.34 L36.97,206.93 L37.16,207.53 L37.35,208.15 L37.54,208.77 L37.75,209.4 L37.95,210.04 L38.17,210.69 L38.39,211.35 L38.62,212.01 L38.85,212.69 L39.09,213.37 L39.34,214.06 L39.6,214.76 L39.86,215.47 L40.13,216.18 L40.41,216.9 L40.7,217.62 L40.99,218.35 L41.3,219.08 L41.61,219.82 L41.93,220.56 L42.26,221.3 L42.61,222.05 L42.96,222.8 L43.32,223.55 L43.69,224.29 L44.08,225.04 L44.47,225.79 L44.88,226.53 L45.3,227.27 L45.73,228.01 L46.18,228.74 L46.63,229.47 L47.11,230.19 L47.59,230.91 L48.09,231.62 L48.61,232.32 L49.13,233.01 L49.68,233.69 L51.84,236.16 L54,238.28 L56.17,240.14 L58.33,241.81 L60.49,243.35 L62.65,244.84 L64.82,246.34 L66.98,247.83 L69.14,249.26 L71.3,250.64 L73.47,251.96 L75.63,253.25 L77.79,254.49 L79.95,255.69 L82.11,256.86 L84.28,258 L86.44,259.12 L88.6,260.21 L90.76,261.28 L92.93,262.33 L95.09,263.35 L97.25,264.33 L99.41,265.29 L101.57,266.21 L103.74,267.09 L105.9,267.93 L108.06,268.74 L110.22,269.52 L112.39,270.29 L114.55,271.05 L116.71,271.78 L118.87,272.5 L121.04,273.21 L123.2,273.9 L125.36,274.58 L127.52,275.24 L129.68,275.89 L131.85,276.53 L134.01,277.15 L136.17,277.76 L138.33,278.36 L140.5,278.95 L142.66,279.53 L144.82,280.09 L146.98,280.65 L149.14,281.2 L151.31,281.74 L153.47,282.26 L155.63,282.78 L157.79,283.28 L159.96,283.77 L162.12,284.25 L164.28,284.72 L166.44,285.18 L168.61,285.64 L170.77,286.08 L172.93,286.52 L175.09,286.95 L177.25,287.38 L179.42,287.79 L181.58,288.21 L183.74,288.61 L185.9,288.99 L188.07,289.35 L190.23,289.71 L192.39,290.08 L194.55,290.47 L196.71,290.9 L198.88,291.34 L201.04,291.8 L203.2,292.27 L205.36,292.76 L207.53,293.26 L209.69,293.77 L211.85,294.3 L214.01,294.85 L216.18,295.41 L218.34,295.98 L220.5,296.57" class="cil"/>
<path d="M32.22,205.05 L32.27,205.21 L32.32,205.37 L32.37,205.54 L32.43,205.71 L32.48,205.89 L32.54,206.07 L32.6,206.26 L32.66,206.46 L32.72,206.66 L32.79,206.87 L32.86,207.09 L32.93,207.31 L33,207.53 L33.08,207.77 L33.15,208.01 L33.23,208.25 L33.31,208.51 L33.4,208.77 L33.49,209.05 L33.58,209.33 L33.67,209.63 L33.77,209.94 L33.87,210.26 L33.97,210.59 L34.08,210.93 L34.19,211.29 L34.3,211.66 L34.42,212.04 L34.54,212.43 L34.66,212.84 L34.79,213.26 L34.92,213.7 L35.06,214.15 L35.2,214.62 L35.35,215.1 L35.5,215.6 L35.66,216.11 L35.82,216.64 L35.98,217.18 L36.15,217.74 L36.33,218.32 L36.52,218.91 L36.7,219.51 L36.9,220.13 L37.1,220.76 L37.31,221.4 L37.52,222.05 L37.74,222.71 L37.97,223.38 L38.21,224.06 L38.45,224.74 L38.71,225.42 L38.97,226.1 L39.23,226.78 L39.51,227.44 L39.8,228.09 L40.09,228.72 L40.4,229.34 L40.71,229.96 L41.04,230.58 L41.37,231.21 L41.72,231.85 L42.08,232.5 L42.45,233.15 L42.83,233.8 L43.23,234.46 L43.63,235.12 L44.05,235.78 L44.49,236.45 L44.93,237.12 L45.4,237.79 L45.87,238.45 L46.37,239.12 L46.88,239.79 L47.4,240.46 L47.94,241.13 L48.5,241.79 L49.08,242.45 L49.68,243.11 L51.84,245.33 L54,247.37 L56.17,249.24 L58.33,250.98 L60.49,252.6 L62.65,254.13 L64.82,255.59 L66.98,257.01 L69.14,258.4 L71.3,259.73 L73.47,260.99 L75.63,262.19 L77.79,263.34 L79.95,264.48 L82.11,265.6 L84.28,266.73 L86.44,267.88 L88.6,269.04 L90.76,270.21 L92.93,271.36 L95.09,272.5 L97.25,273.62 L99.41,274.69 L101.57,275.72 L103.74,276.69 L105.9,277.6 L108.06,278.44 L110.22,279.25 L112.39,280.03 L114.55,280.79 L116.71,281.52 L118.87,282.23 L121.04,282.92 L123.2,283.59 L125.36,284.24 L127.52,284.88 L129.68,285.51 L131.85,286.13 L134.01,286.74 L136.17,287.35 L138.33,287.95 L140.5,288.55 L142.66,289.16 L144.82,289.76 L146.98,290.37 L149.14,290.98 L151.31,291.61 L153.47,292.22 L155.63,292.82 L157.79,293.41 L159.96,294 L162.12,294.58 L164.28,295.16 L166.44,295.74 L168.61,296.31 L170.77,296.89 L172.93,297.47 L175.09,298.06 L177.25,298.65 L179.42,299.24 L181.58,299.85 L183.74,300.46 L185.9,301.09 L188.07,301.72 L190.23,302.36 L192.39,303 L194.55,303.65 L196.71,304.3 L198.88,304.95 L201.04,305.6 L203.2,306.25 L205.36,306.91 L207.53,307.57 L209.69,308.23 L211.85,308.89 L214.01,309.56 L216.18,310.23 L218.34,310.9 L220.5,311.58" class="cil"/>
<path d="M33.82,188 L33.91,188.57 L34,189.23 L34.1,189.87 L34.2,190.5 L34.3,191.1 L34.41,191.67 L34.52,192.21 L34.63,192.73 L34.75,193.24 L34.87,193.75 L34.99,194.25 L35.12,194.74 L35.25,195.23 L35.38,195.71 L35.52,196.18 L35.67,196.64 L35.81,197.1 L35.96,197.56 L36.12,198.01 L36.28,198.46 L36.45,198.91 L36.62,199.36 L36.79,199.82 L36.97,200.29 L37.16,200.77 L37.35,201.26 L37.54,201.75 L37.75,202.24 L37.95,202.74 L38.17,203.25 L38.39,203.75 L38.62,204.26 L38.85,204.78 L39.09,205.3 L39.34,205.83 L39.6,206.36 L39.86,206.89 L40.13,207.43 L40.41,207.98 L40.7,208.54 L40.99,209.1 L41.3,209.67 L41.61,210.25 L41.93,210.84 L42.26,211.44 L42.61,212.06 L42.96,212.69 L43.32,213.35 L43.69,214.02 L44.08,214.73 L44.47,215.46 L44.88,216.22 L45.3,217.01 L45.73,217.82 L46.18,218.65 L46.63,219.51 L47.11,220.38 L47.59,221.28 L48.09,222.2 L48.61,223.13 L49.13,224.08 L49.68,225.05 L51.84,228.71 L54,232.05 L56.17,235.31 L58.33,238.36 L60.49,240.92 L62.65,242.78 L64.82,244.19 L66.98,245.36 L69.14,246.42 L71.3,247.5 L73.47,248.68 L75.63,249.89 L77.79,251.1 L79.95,252.29 L82.11,253.46 L84.28,254.59 L86.44,255.7 L88.6,256.82 L90.76,257.94 L92.93,259.04 L95.09,260.12 L97.25,261.17 L99.41,262.19 L101.57,263.16 L103.74,264.08 L105.9,264.93 L108.06,265.73 L110.22,266.49 L112.39,267.24 L114.55,267.95 L116.71,268.65 L118.87,269.33 L121.04,269.99 L123.2,270.63 L125.36,271.25 L127.52,271.86 L129.68,272.46 L131.85,273.05 L134.01,273.62 L136.17,274.19 L138.33,274.75 L140.5,275.31 L142.66,275.86 L144.82,276.41 L146.98,276.96 L149.14,277.51 L151.31,278.06 L153.47,278.6 L155.63,279.12 L157.79,279.64 L159.96,280.14 L162.12,280.63 L164.28,281.12 L166.44,281.61 L168.61,282.09 L170.77,282.58 L172.93,283.06 L175.09,283.54 L177.25,284.03 L179.42,284.53 L181.58,285.03 L183.74,285.54 L185.9,286.05 L188.07,286.56 L190.23,287.08 L192.39,287.6 L194.55,288.13 L196.71,288.66 L198.88,289.2 L201.04,289.74 L203.2,290.29 L205.36,290.84 L207.53,291.39 L209.69,291.95 L211.85,292.51 L214.01,293.08 L216.18,293.65 L218.34,294.22 L220.5,294.8" class="cim"/>
<path d="M32.22,213.92 L32.27,214.08 L32.32,214.25 L32.37,214.43 L32.43,214.61 L32.48,214.8 L32.54,214.99 L32.6,215.19 L32.66,215.4 L32.72,215.61 L32.79,215.83 L32.86,216.05 L32.93,216.29 L33,216.52 L33.08,216.77 L33.15,217.02 L33.23,217.28 L33.31,217.55 L33.4,217.83 L33.49,218.11 L33.58,218.41 L33.67,218.71 L33.77,219.02 L33.87,219.33 L33.97,219.66 L34.08,220 L34.19,220.34 L34.3,220.7 L34.42,221.06 L34.54,221.43 L34.66,221.82 L34.79,222.21 L34.92,222.61 L35.06,223.03 L35.2,223.45 L35.35,223.88 L35.5,224.32 L35.66,224.78 L35.82,225.24 L35.98,225.71 L36.15,226.19 L36.33,226.68 L36.52,227.18 L36.7,227.69 L36.9,228.2 L37.1,228.73 L37.31,229.26 L37.52,229.79 L37.74,230.33 L37.97,230.88 L38.21,231.43 L38.45,231.98 L38.71,232.53 L38.97,233.08 L39.23,233.63 L39.51,234.17 L39.8,234.71 L40.09,235.25 L40.4,235.8 L40.71,236.35 L41.04,236.91 L41.37,237.47 L41.72,238.03 L42.08,238.6 L42.45,239.18 L42.83,239.75 L43.23,240.33 L43.63,240.92 L44.05,241.5 L44.49,242.09 L44.93,242.68 L45.4,243.27 L45.87,243.87 L46.37,244.47 L46.88,245.07 L47.4,245.67 L47.94,246.28 L48.5,246.89 L49.08,247.51 L49.68,248.13 L51.84,250.3 L54,252.31 L56.17,254.18 L58.33,255.9 L60.49,257.47 L62.65,258.89 L64.82,260.18 L66.98,261.35 L69.14,262.42 L71.3,263.43 L73.47,264.38 L75.63,265.3 L77.79,266.2 L79.95,267.12 L82.11,268.06 L84.28,269.05 L86.44,270.08 L88.6,271.15 L90.76,272.23 L92.93,273.32 L95.09,274.4 L97.25,275.47 L99.41,276.51 L101.57,277.52 L103.74,278.47 L105.9,279.38 L108.06,280.22 L110.22,281.03 L112.39,281.83 L114.55,282.6 L116.71,283.35 L118.87,284.09 L121.04,284.81 L123.2,285.51 L125.36,286.2 L127.52,286.87 L129.68,287.54 L131.85,288.2 L134.01,288.84 L136.17,289.49 L138.33,290.13 L140.5,290.76 L142.66,291.39 L144.82,292.03 L146.98,292.66 L149.14,293.3 L151.31,293.93 L153.47,294.56 L155.63,295.19 L157.79,295.8 L159.96,296.41 L162.12,297.01 L164.28,297.61 L166.44,298.2 L168.61,298.79 L170.77,299.38 L172.93,299.96 L175.09,300.55 L177.25,301.13 L179.42,301.72 L181.58,302.31 L183.74,302.9 L185.9,303.48 L188.07,304.05 L190.23,304.63 L192.39,305.22 L194.55,305.83 L196.71,306.48 L198.88,307.13 L201.04,307.8 L203.2,308.48 L205.36,309.18 L207.53,309.88 L209.69,310.61 L211.85,311.34 L214.01,312.1 L216.18,312.86 L218.34,313.64 L220.5,314.44" class="cim"/>
<path d="M32.6,189.36 L34.5,200.28 L40.19,222.51 L49.68,238.88 L68.66,255.25 L87.64,264.38 L106.62,272.84 L125.6,278.02 L144.58,283.07 L163.56,288.12 L182.54,293.16 L201.52,297.8 L211.01,299.85 L218.6,302.17 L220.5,302.99" class="mom"/>
<path d="M32.6,191.41 L34.5,201.64 L36.39,209.41 L40.19,222.78 L49.68,239.15 L68.66,255.52 L87.64,264.38 L106.62,272.84 L125.6,278.02 L144.58,283.07 L163.56,288.12 L182.54,293.16 L201.52,297.8 L211.01,299.85 L218.6,302.17 L220.5,302.99" class="lm"/>
<circle cx="32.6" cy="191.41" r="1.1" class="dot"/>
<circle cx="34.5" cy="201.64" r="1.1" class="dot"/>
<circle cx="40.19" cy="222.78" r="1.1" class="dot"/>
<circle cx="49.68" cy="239.15" r="1.1" class="dot"/>
<circle cx="68.66" cy="255.52" r="1.1" class="dot"/>
<circle cx="87.64" cy="264.38" r="1.1" class="dot"/>
<circle cx="106.62" cy="272.84" r="1.1" class="dot"/>
<circle cx="125.6" cy="278.02" r="1.1" class="dot"/>
<circle cx="144.58" cy="283.07" r="1.1" class="dot"/>
<circle cx="163.56" cy="288.12" r="1.1" class="dot"/>
<circle cx="182.54" cy="293.16" r="1.1" class="dot"/>
<circle cx="201.52" cy="297.8" r="1.1" class="dot"/>
<circle cx="211.01" cy="299.85" r="1.1" class="dot"/>
<circle cx="218.6" cy="302.17" r="1.1" class="dot"/>
<rect x="33.08" y="211.36" width="3.2" height="3.2" class="ob"/>
<rect x="39.2" y="221.59" width="3.2" height="3.2" class="ob"/>
<rect x="45.32" y="225.27" width="3.2" height="3.2" class="ob"/>
<rect x="51.45" y="229.23" width="3.2" height="3.2" class="ob"/>
<rect x="57.57" y="239.46" width="3.2" height="3.2" class="ob"/>
<rect x="63.69" y="242.32" width="3.2" height="3.2" class="ob"/>
<rect x="69.82" y="253.92" width="3.2" height="3.2" class="ob"/>
<rect x="75.94" y="261.28" width="3.2" height="3.2" class="ob"/>
<rect x="82.06" y="262.37" width="3.2" height="3.2" class="ob"/>
<rect x="88.18" y="264.56" width="3.2" height="3.2" class="ob"/>
<rect x="94.31" y="269.74" width="3.2" height="3.2" class="ob"/>
<rect x="100.43" y="271.92" width="3.2" height="3.2" class="ob"/>
<rect x="106.55" y="272.6" width="3.2" height="3.2" class="ob"/>
<rect x="112.67" y="273.83" width="3.2" height="3.2" class="ob"/>
<rect x="118.8" y="275.06" width="3.2" height="3.2" class="ob"/>
<rect x="124.92" y="279.97" width="3.2" height="3.2" class="ob"/>
<rect x="131.04" y="281.47" width="3.2" height="3.2" class="ob"/>
<rect x="137.16" y="282.29" width="3.2" height="3.2" class="ob"/>
<rect x="143.29" y="282.83" width="3.2" height="3.2" class="ob"/>
<rect x="149.41" y="283.24" width="3.2" height="3.2" class="ob"/>
<rect x="155.53" y="285.43" width="3.2" height="3.2" class="ob"/>
<rect x="161.65" y="287.61" width="3.2" height="3.2" class="ob"/>
<rect x="167.78" y="288.56" width="3.2" height="3.2" class="ob"/>
<rect x="173.9" y="290.06" width="3.2" height="3.2" class="ob"/>
<rect x="180.02" y="292.11" width="3.2" height="3.2" class="ob"/>
<rect x="186.14" y="293.61" width="3.2" height="3.2" class="ob"/>
<rect x="192.27" y="295.25" width="3.2" height="3.2" class="ob"/>
<rect x="198.39" y="296.34" width="3.2" height="3.2" class="ob"/>
<rect x="204.51" y="296.75" width="3.2" height="3.2" class="ob"/>
<rect x="210.63" y="297.02" width="3.2" height="3.2" class="ob"/>
<rect x="216.76" y="298.52" width="3.2" height="3.2" class="ob"/>
</g>
<line x1="30.7" y1="324.4" x2="222.5" y2="324.4" class="ax"/>
<line x1="30.7" y1="324.4" x2="30.7" y2="186" class="ax"/>
<path d="M225.7,324.4 L221.1,322.7 L221.1,326.1 Z" fill="#111"/>
<path d="M30.7,183.7 L29,187.6 L32.4,187.6 Z" fill="#111"/>
<line x1="49.68" y1="323.2" x2="49.68" y2="325.6" class="tk"/>
<line x1="68.66" y1="323.2" x2="68.66" y2="325.6" class="tk"/>
<line x1="87.64" y1="323.2" x2="87.64" y2="325.6" class="tk"/>
<line x1="106.62" y1="323.2" x2="106.62" y2="325.6" class="tk"/>
<line x1="125.6" y1="323.2" x2="125.6" y2="325.6" class="tk"/>
<line x1="144.58" y1="323.2" x2="144.58" y2="325.6" class="tk"/>
<line x1="163.56" y1="323.2" x2="163.56" y2="325.6" class="tk"/>
<line x1="182.54" y1="323.2" x2="182.54" y2="325.6" class="tk"/>
<line x1="201.52" y1="323.2" x2="201.52" y2="325.6" class="tk"/>
<line x1="29.2" y1="310.76" x2="31.3" y2="310.76" class="tk"/>
<line x1="29.2" y1="297.12" x2="31.3" y2="297.12" class="tk"/>
<line x1="29.2" y1="283.48" x2="31.3" y2="283.48" class="tk"/>
<line x1="29.2" y1="269.84" x2="31.3" y2="269.84" class="tk"/>
<line x1="29.2" y1="256.2" x2="31.3" y2="256.2" class="tk"/>
<line x1="29.2" y1="242.56" x2="31.3" y2="242.56" class="tk"/>
<line x1="29.2" y1="228.92" x2="31.3" y2="228.92" class="tk"/>
<line x1="29.2" y1="215.28" x2="31.3" y2="215.28" class="tk"/>
<line x1="29.2" y1="201.64" x2="31.3" y2="201.64" class="tk"/>
<text x="30.7" y="332.74" class="tl" font-size="6.63" text-anchor="middle">0%</text>
<text x="68.66" y="332.74" class="tl" font-size="6.63" text-anchor="middle">20%</text>
<text x="106.62" y="332.74" class="tl" font-size="6.63" text-anchor="middle">40%</text>
<text x="144.58" y="332.74" class="tl" font-size="6.63" text-anchor="middle">60%</text>
<text x="182.54" y="332.74" class="tl" font-size="6.63" text-anchor="middle">80%</text>
<text x="220.5" y="332.74" class="tl" font-size="6.63" text-anchor="middle">100%</text>
<text x="28.5" y="326.8" class="tl" font-size="6.63" text-anchor="end">0</text>
<text x="28.5" y="299.52" class="tl" font-size="6.63" text-anchor="end">0.2</text>
<text x="28.5" y="272.24" class="tl" font-size="6.63" text-anchor="end">0.4</text>
<text x="28.5" y="244.96" class="tl" font-size="6.63" text-anchor="end">0.6</text>
<text x="28.5" y="217.68" class="tl" font-size="6.63" text-anchor="end">0.8</text>
<text x="28.5" y="190.4" class="tl" font-size="6.63" text-anchor="end">1</text>
<text x="125.6" y="345.1" class="tl" font-size="6.63" text-anchor="middle">Exceedence probability [%]</text>
<text transform="translate(12,256.7) rotate(-90)" class="tl" font-size="6.63" text-anchor="middle">Flow [m<tspan font-size="4.42" dy="-2.2">3</tspan><tspan dy="2.2">/s]</tspan></text>
<text x="117.2" y="361" class="cap" text-anchor="middle" textLength="54.8" lengthAdjust="spacing">(<tspan font-weight="bold">c</tspan>) Weibull</text>
<rect x="127.8" y="188.8" width="91.8" height="60.2" fill="#fff"/>
<text transform="translate(140.8,198.56) scale(0.9,1)" class="lg" font-size="6.78">Observed data</text>
<rect x="132.35" y="195" width="3" height="3" class="ob"/>
<text transform="translate(140.8,206.56) scale(0.9,1)" class="lg" font-size="6.78">Weibull:MOM</text>
<line x1="129.1" y1="204.5" x2="138.6" y2="204.5" class="mom"/>
<text transform="translate(140.8,214.56) scale(0.9,1)" class="lg" font-size="6.78">Weibull:L-mom</text>
<line x1="129.1" y1="212.5" x2="138.6" y2="212.5" class="lm" stroke-width="1"/>
<circle cx="133.85" cy="212.5" r="1.2" class="dot"/>
<text transform="translate(140.8,222.56) scale(0.9,1)" class="lg" font-size="6.78">Weibull:C.I (MOM:upper)</text>
<line x1="129.1" y1="220.5" x2="138.6" y2="220.5" class="cim" stroke-dasharray="5 2.4" stroke-width="1"/>
<text transform="translate(140.8,230.56) scale(0.9,1)" class="lg" font-size="6.78">Weibull:C.I (MOM:lower)</text>
<line x1="129.1" y1="228.5" x2="138.6" y2="228.5" class="cim" stroke-dasharray="5 2.4" stroke-width="1"/>
<text transform="translate(140.8,238.56) scale(0.9,1)" class="lg" font-size="6.78">Weibull:C.I (L-mom:upper)</text>
<line x1="129.1" y1="236.5" x2="138.6" y2="236.5" class="cil" stroke-dasharray="1.6 0.8" stroke-width="1" stroke="#a0a0a0"/>
<text transform="translate(140.8,246.56) scale(0.9,1)" class="lg" font-size="6.78">Weibull:C.I (L-mom:lower)</text>
<line x1="129.1" y1="244.5" x2="138.6" y2="244.5" class="cil" stroke-dasharray="1.6 0.8" stroke-width="1" stroke="#a0a0a0"/>
<line x1="277.85" y1="188.4" x2="277.85" y2="323.5" class="gm"/>
<line x1="315.55" y1="188.4" x2="315.55" y2="323.5" class="gm"/>
<line x1="353.25" y1="188.4" x2="353.25" y2="323.5" class="gm"/>
<line x1="390.95" y1="188.4" x2="390.95" y2="323.5" class="gm"/>
<line x1="428.65" y1="188.4" x2="428.65" y2="323.5" class="gm"/>
<line x1="259" y1="309.99" x2="447.5" y2="309.99" class="gm"/>
<line x1="259" y1="282.97" x2="447.5" y2="282.97" class="gm"/>
<line x1="259" y1="255.95" x2="447.5" y2="255.95" class="gm"/>
<line x1="259" y1="228.93" x2="447.5" y2="228.93" class="gm"/>
<line x1="259" y1="201.91" x2="447.5" y2="201.91" class="gm"/>
<line x1="296.7" y1="188.4" x2="296.7" y2="323.5" class="gM"/>
<line x1="334.4" y1="188.4" x2="334.4" y2="323.5" class="gM"/>
<line x1="372.1" y1="188.4" x2="372.1" y2="323.5" class="gM"/>
<line x1="409.8" y1="188.4" x2="409.8" y2="323.5" class="gM"/>
<line x1="259" y1="296.48" x2="447.5" y2="296.48" class="gM"/>
<line x1="259" y1="269.46" x2="447.5" y2="269.46" class="gM"/>
<line x1="259" y1="242.44" x2="447.5" y2="242.44" class="gM"/>
<line x1="259" y1="215.42" x2="447.5" y2="215.42" class="gM"/>
<path d="M259,188.4 L447.5,188.4 L447.5,323.5" class="bd"/>
<g clip-path="url(#clipWakeby)">
<path d="M261.75,188.4 L261.83,188.43 L261.92,188.77 L262,189.11 L262.09,189.47 L262.19,189.83 L262.28,190.2 L262.38,190.58 L262.48,190.98 L262.58,191.38 L262.69,191.78 L262.79,192.2 L262.91,192.63 L263.02,193.07 L263.14,193.52 L263.26,193.98 L263.39,194.45 L263.52,194.93 L263.65,195.42 L263.79,195.92 L263.93,196.43 L264.08,196.96 L264.23,197.49 L264.38,198.04 L264.54,198.59 L264.71,199.16 L264.87,199.74 L265.05,200.33 L265.23,200.93 L265.41,201.55 L265.6,202.17 L265.8,202.81 L266,203.45 L266.2,204.11 L266.42,204.78 L266.64,205.46 L266.86,206.16 L267.1,206.86 L267.33,207.57 L267.58,208.3 L267.83,209.03 L268.1,209.78 L268.37,210.53 L268.64,211.3 L268.93,212.07 L269.22,212.85 L269.52,213.64 L269.83,214.44 L270.15,215.25 L270.48,216.06 L270.82,216.88 L271.17,217.7 L271.53,218.53 L271.9,219.37 L272.29,220.21 L272.68,221.05 L273.08,221.89 L273.5,222.74 L273.93,223.59 L274.37,224.43 L274.83,225.28 L275.29,226.12 L275.78,226.96 L276.27,227.8 L276.78,228.63 L277.31,229.46 L277.85,230.28 L280,233.32 L282.14,236.06 L284.29,238.55 L286.44,240.81 L288.59,242.88 L290.73,244.8 L292.88,246.59 L295.03,248.3 L297.18,249.95 L299.32,251.5 L301.47,252.93 L303.62,254.26 L305.77,255.52 L307.91,256.74 L310.06,257.93 L312.21,259.13 L314.36,260.31 L316.5,261.48 L318.65,262.63 L320.8,263.76 L322.95,264.85 L325.09,265.91 L327.24,266.93 L329.39,267.91 L331.54,268.84 L333.68,269.72 L335.83,270.55 L337.98,271.36 L340.13,272.15 L342.27,272.92 L344.42,273.68 L346.57,274.41 L348.72,275.13 L350.86,275.83 L353.01,276.5 L355.16,277.16 L357.31,277.8 L359.45,278.41 L361.6,279.01 L363.75,279.59 L365.9,280.14 L368.04,280.67 L370.19,281.18 L372.34,281.67 L374.49,282.14 L376.63,282.59 L378.78,283.02 L380.93,283.43 L383.08,283.83 L385.22,284.21 L387.37,284.59 L389.52,284.95 L391.67,285.31 L393.81,285.66 L395.96,286 L398.11,286.35 L400.26,286.69 L402.4,287.03 L404.55,287.38 L406.7,287.73 L408.85,288.08 L410.99,288.44 L413.14,288.8 L415.29,289.16 L417.44,289.51 L419.58,289.87 L421.73,290.22 L423.88,290.57 L426.03,290.92 L428.17,291.27 L430.32,291.61 L432.47,291.96 L434.62,292.3 L436.76,292.64 L438.91,292.98 L441.06,293.32 L443.21,293.65 L445.35,293.99 L447.5,294.32" class="cil"/>
<path d="M260.88,205.96 L260.94,206.14 L261,206.33 L261.06,206.52 L261.12,206.72 L261.18,206.93 L261.25,207.14 L261.31,207.36 L261.38,207.58 L261.45,207.81 L261.52,208.03 L261.6,208.27 L261.67,208.5 L261.75,208.73 L261.83,208.96 L261.92,209.19 L262,209.42 L262.09,209.67 L262.19,209.92 L262.28,210.18 L262.38,210.44 L262.48,210.72 L262.58,211 L262.69,211.29 L262.79,211.59 L262.91,211.89 L263.02,212.21 L263.14,212.54 L263.26,212.87 L263.39,213.21 L263.52,213.57 L263.65,213.93 L263.79,214.3 L263.93,214.69 L264.08,215.08 L264.23,215.49 L264.38,215.91 L264.54,216.33 L264.71,216.77 L264.87,217.22 L265.05,217.69 L265.23,218.16 L265.41,218.65 L265.6,219.15 L265.8,219.67 L266,220.19 L266.2,220.73 L266.42,221.28 L266.64,221.85 L266.86,222.43 L267.1,223.02 L267.33,223.63 L267.58,224.24 L267.83,224.88 L268.1,225.52 L268.37,226.18 L268.64,226.84 L268.93,227.53 L269.22,228.22 L269.52,228.92 L269.83,229.64 L270.15,230.36 L270.48,231.09 L270.82,231.83 L271.17,232.58 L271.53,233.33 L271.9,234.08 L272.29,234.84 L272.68,235.6 L273.08,236.35 L273.5,237.1 L273.93,237.84 L274.37,238.57 L274.83,239.29 L275.29,239.99 L275.78,240.66 L276.27,241.31 L276.78,241.93 L277.31,242.54 L277.85,243.16 L280,245.41 L282.14,247.41 L284.29,249.19 L286.44,250.82 L288.59,252.33 L290.73,253.76 L292.88,255.16 L295.03,256.57 L297.18,258.05 L299.32,259.54 L301.47,260.98 L303.62,262.38 L305.77,263.73 L307.91,265.04 L310.06,266.32 L312.21,267.57 L314.36,268.82 L316.5,270.06 L318.65,271.29 L320.8,272.49 L322.95,273.66 L325.09,274.79 L327.24,275.87 L329.39,276.9 L331.54,277.87 L333.68,278.77 L335.83,279.6 L337.98,280.4 L340.13,281.17 L342.27,281.9 L344.42,282.61 L346.57,283.3 L348.72,283.96 L350.86,284.61 L353.01,285.24 L355.16,285.85 L357.31,286.45 L359.45,287.03 L361.6,287.61 L363.75,288.19 L365.9,288.76 L368.04,289.32 L370.19,289.89 L372.34,290.46 L374.49,291.03 L376.63,291.6 L378.78,292.16 L380.93,292.71 L383.08,293.25 L385.22,293.79 L387.37,294.32 L389.52,294.85 L391.67,295.37 L393.81,295.88 L395.96,296.38 L398.11,296.88 L400.26,297.37 L402.4,297.85 L404.55,298.33 L406.7,298.79 L408.85,299.25 L410.99,299.7 L413.14,300.15 L415.29,300.59 L417.44,301.02 L419.58,301.45 L421.73,301.88 L423.88,302.29 L426.03,302.71 L428.17,303.11 L430.32,303.51 L432.47,303.91 L434.62,304.29 L436.76,304.68 L438.91,305.05 L441.06,305.42 L443.21,305.78 L445.35,306.13 L447.5,306.48" class="cil"/>
<path d="M263.26,188.4 L263.39,188.8 L263.52,189.33 L263.65,189.84 L263.79,190.36 L263.93,190.89 L264.08,191.44 L264.23,191.99 L264.38,192.55 L264.54,193.12 L264.71,193.7 L264.87,194.29 L265.05,194.89 L265.23,195.49 L265.41,196.11 L265.6,196.74 L265.8,197.37 L266,198.01 L266.2,198.66 L266.42,199.32 L266.64,199.99 L266.86,200.66 L267.1,201.34 L267.33,202.03 L267.58,202.73 L267.83,203.43 L268.1,204.14 L268.37,204.85 L268.64,205.57 L268.93,206.29 L269.22,207.02 L269.52,207.75 L269.83,208.49 L270.15,209.23 L270.48,209.98 L270.82,210.72 L271.17,211.47 L271.53,212.22 L271.9,212.98 L272.29,213.73 L272.68,214.49 L273.08,215.25 L273.5,216.01 L273.93,216.78 L274.37,217.54 L274.83,218.32 L275.29,219.09 L275.78,219.88 L276.27,220.66 L276.78,221.46 L277.31,222.27 L277.85,223.09 L280,226.21 L282.14,229.05 L284.29,231.64 L286.44,234.02 L288.59,236.23 L290.73,238.31 L292.88,240.29 L295.03,242.23 L297.18,244.15 L299.32,246.05 L301.47,247.87 L303.62,249.61 L305.77,251.25 L307.91,252.77 L310.06,254.16 L312.21,255.47 L314.36,256.72 L316.5,257.92 L318.65,259.08 L320.8,260.18 L322.95,261.25 L325.09,262.27 L327.24,263.24 L329.39,264.18 L331.54,265.08 L333.68,265.94 L335.83,266.77 L337.98,267.57 L340.13,268.36 L342.27,269.13 L344.42,269.88 L346.57,270.61 L348.72,271.32 L350.86,272.01 L353.01,272.68 L355.16,273.33 L357.31,273.97 L359.45,274.58 L361.6,275.18 L363.75,275.76 L365.9,276.32 L368.04,276.86 L370.19,277.39 L372.34,277.89 L374.49,278.38 L376.63,278.85 L378.78,279.3 L380.93,279.74 L383.08,280.17 L385.22,280.58 L387.37,280.98 L389.52,281.37 L391.67,281.76 L393.81,282.13 L395.96,282.5 L398.11,282.87 L400.26,283.24 L402.4,283.6 L404.55,283.96 L406.7,284.33 L408.85,284.7 L410.99,285.07 L413.14,285.44 L415.29,285.8 L417.44,286.16 L419.58,286.52 L421.73,286.88 L423.88,287.24 L426.03,287.59 L428.17,287.94 L430.32,288.28 L432.47,288.63 L434.62,288.97 L436.76,289.3 L438.91,289.64 L441.06,289.97 L443.21,290.3 L445.35,290.62 L447.5,290.94" class="cim"/>
<path d="M260.88,215.42 L260.94,215.52 L261,215.61 L261.06,215.71 L261.12,215.82 L261.18,215.92 L261.25,216.03 L261.31,216.15 L261.38,216.26 L261.45,216.38 L261.52,216.51 L261.6,216.64 L261.67,216.77 L261.75,216.91 L261.83,217.05 L261.92,217.2 L262,217.36 L262.09,217.52 L262.19,217.69 L262.28,217.86 L262.38,218.04 L262.48,218.22 L262.58,218.41 L262.69,218.61 L262.79,218.82 L262.91,219.03 L263.02,219.25 L263.14,219.48 L263.26,219.72 L263.39,219.96 L263.52,220.22 L263.65,220.48 L263.79,220.75 L263.93,221.04 L264.08,221.33 L264.23,221.63 L264.38,221.95 L264.54,222.27 L264.71,222.61 L264.87,222.96 L265.05,223.32 L265.23,223.69 L265.41,224.08 L265.6,224.48 L265.8,224.89 L266,225.32 L266.2,225.76 L266.42,226.22 L266.64,226.69 L266.86,227.17 L267.1,227.68 L267.33,228.2 L267.58,228.73 L267.83,229.28 L268.1,229.85 L268.37,230.43 L268.64,231.03 L268.93,231.65 L269.22,232.29 L269.52,232.94 L269.83,233.6 L270.15,234.29 L270.48,234.99 L270.82,235.7 L271.17,236.43 L271.53,237.17 L271.9,237.92 L272.29,238.69 L272.68,239.46 L273.08,240.24 L273.5,241.03 L273.93,241.82 L274.37,242.61 L274.83,243.4 L275.29,244.18 L275.78,244.95 L276.27,245.7 L276.78,246.44 L277.31,247.14 L277.85,247.82 L280,250.14 L282.14,252.25 L284.29,254.18 L286.44,255.93 L288.59,257.54 L290.73,259.02 L292.88,260.4 L295.03,261.68 L297.18,262.9 L299.32,264 L301.47,264.97 L303.62,265.87 L305.77,266.74 L307.91,267.63 L310.06,268.59 L312.21,269.62 L314.36,270.7 L316.5,271.82 L318.65,272.95 L320.8,274.09 L322.95,275.23 L325.09,276.35 L327.24,277.44 L329.39,278.48 L331.54,279.47 L333.68,280.39 L335.83,281.23 L337.98,282.05 L340.13,282.84 L342.27,283.61 L344.42,284.35 L346.57,285.08 L348.72,285.78 L350.86,286.47 L353.01,287.15 L355.16,287.81 L357.31,288.45 L359.45,289.09 L361.6,289.72 L363.75,290.34 L365.9,290.95 L368.04,291.56 L370.19,292.16 L372.34,292.76 L374.49,293.36 L376.63,293.95 L378.78,294.53 L380.93,295.11 L383.08,295.67 L385.22,296.23 L387.37,296.78 L389.52,297.33 L391.67,297.87 L393.81,298.4 L395.96,298.92 L398.11,299.44 L400.26,299.95 L402.4,300.46 L404.55,300.96 L406.7,301.45 L408.85,301.94 L410.99,302.42 L413.14,302.9 L415.29,303.37 L417.44,303.84 L419.58,304.31 L421.73,304.77 L423.88,305.22 L426.03,305.67 L428.17,306.11 L430.32,306.55 L432.47,306.99 L434.62,307.41 L436.76,307.84 L438.91,308.25 L441.06,308.66 L443.21,309.07 L445.35,309.46 L447.5,309.85" class="cim"/>
<path d="M259.94,190.43 L259.98,190.73 L260.02,191.04 L260.06,191.37 L260.1,191.72 L260.14,192.06 L260.18,192.42 L260.23,192.77 L260.28,193.11 L260.33,193.44 L260.38,193.77 L260.43,194.1 L260.49,194.45 L260.54,194.8 L260.6,195.17 L260.66,195.54 L260.73,195.93 L260.8,196.32 L260.87,196.73 L260.94,197.15 L261.01,197.57 L261.09,198.01 L261.17,198.46 L261.25,198.92 L261.34,199.38 L261.43,199.86 L261.53,200.35 L261.62,200.85 L261.73,201.36 L261.83,201.88 L261.94,202.4 L262.05,202.94 L262.17,203.49 L262.29,204.04 L262.42,204.6 L262.55,205.17 L262.69,205.75 L262.83,206.33 L262.98,206.92 L263.14,207.51 L263.3,208.11 L263.46,208.71 L263.63,209.32 L263.81,209.94 L264,210.57 L264.19,211.22 L264.39,211.87 L264.6,212.54 L264.82,213.22 L265.04,213.91 L265.28,214.6 L265.52,215.31 L265.77,216.03 L266.03,216.75 L266.3,217.48 L266.59,218.22 L266.88,218.96 L267.18,219.71 L267.5,220.47 L267.83,221.23 L268.17,221.99 L268.53,222.75 L268.89,223.52 L269.28,224.29 L269.67,225.06 L270.09,225.84 L270.51,226.63 L270.96,227.43 L271.42,228.22 L271.9,229.03 L272.4,229.83 L272.92,230.65 L273.46,231.46 L274.01,232.27 L274.59,233.09 L275.2,233.91 L275.82,234.73 L276.47,235.55 L277.15,236.38 L277.85,237.21 L280,239.65 L282.14,241.94 L284.29,244.1 L286.44,246.14 L288.59,248.06 L290.73,249.87 L292.88,251.6 L295.03,253.24 L297.18,254.81 L299.32,256.28 L301.47,257.66 L303.62,258.96 L305.77,260.19 L307.91,261.37 L310.06,262.52 L312.21,263.66 L314.36,264.78 L316.5,265.88 L318.65,266.96 L320.8,268.02 L322.95,269.04 L325.09,270.03 L327.24,270.98 L329.39,271.88 L331.54,272.73 L333.68,273.53 L335.83,274.28 L337.98,274.99 L340.13,275.68 L342.27,276.35 L344.42,276.99 L346.57,277.61 L348.72,278.21 L350.86,278.8 L353.01,279.37 L355.16,279.92 L357.31,280.47 L359.45,281 L361.6,281.53 L363.75,282.05 L365.9,282.57 L368.04,283.08 L370.19,283.59 L372.34,284.11 L374.49,284.62 L376.63,285.12 L378.78,285.62 L380.93,286.1 L383.08,286.59 L385.22,287.06 L387.37,287.53 L389.52,287.99 L391.67,288.45 L393.81,288.9 L395.96,289.35 L398.11,289.79 L400.26,290.23 L402.4,290.67 L404.55,291.1 L406.7,291.54 L408.85,291.97 L410.99,292.39 L413.14,292.82 L415.29,293.24 L417.44,293.66 L419.58,294.08 L421.73,294.49 L423.88,294.9 L426.03,295.31 L428.17,295.71 L430.32,296.11 L432.47,296.51 L434.62,296.9 L436.76,297.29 L438.91,297.67 L441.06,298.06 L443.21,298.44 L445.35,298.81 L447.5,299.18" class="mom"/>
<path d="M259.94,191.1 L259.98,191.37 L260.02,191.66 L260.06,191.96 L260.1,192.26 L260.14,192.58 L260.18,192.9 L260.23,193.22 L260.28,193.53 L260.33,193.84 L260.38,194.15 L260.43,194.47 L260.49,194.81 L260.54,195.15 L260.6,195.5 L260.66,195.86 L260.73,196.24 L260.8,196.62 L260.87,197.02 L260.94,197.43 L261.01,197.85 L261.09,198.28 L261.17,198.72 L261.25,199.18 L261.34,199.64 L261.43,200.12 L261.53,200.61 L261.62,201.11 L261.73,201.63 L261.83,202.15 L261.94,202.69 L262.05,203.23 L262.17,203.79 L262.29,204.35 L262.42,204.93 L262.55,205.51 L262.69,206.1 L262.83,206.7 L262.98,207.3 L263.14,207.9 L263.3,208.51 L263.46,209.12 L263.63,209.73 L263.81,210.35 L264,210.98 L264.19,211.63 L264.39,212.28 L264.6,212.95 L264.82,213.63 L265.04,214.32 L265.28,215.01 L265.52,215.72 L265.77,216.44 L266.03,217.16 L266.3,217.9 L266.59,218.63 L266.88,219.38 L267.18,220.13 L267.5,220.88 L267.83,221.64 L268.17,222.4 L268.53,223.17 L268.89,223.93 L269.28,224.7 L269.67,225.47 L270.09,226.24 L270.51,227.02 L270.96,227.8 L271.42,228.59 L271.9,229.39 L272.4,230.19 L272.92,230.99 L273.46,231.79 L274.01,232.59 L274.59,233.4 L275.2,234.21 L275.82,235.02 L276.47,235.83 L277.15,236.65 L277.85,237.48 L280,239.91 L282.14,242.2 L284.29,244.37 L286.44,246.41 L288.59,248.34 L290.73,250.16 L292.88,251.89 L295.03,253.52 L297.18,255.08 L299.32,256.53 L301.47,257.88 L303.62,259.16 L305.77,260.36 L307.91,261.52 L310.06,262.66 L312.21,263.78 L314.36,264.9 L316.5,266 L318.65,267.08 L320.8,268.14 L322.95,269.16 L325.09,270.15 L327.24,271.1 L329.39,272.01 L331.54,272.86 L333.68,273.66 L335.83,274.41 L337.98,275.13 L340.13,275.82 L342.27,276.48 L344.42,277.13 L346.57,277.75 L348.72,278.35 L350.86,278.93 L353.01,279.5 L355.16,280.06 L357.31,280.6 L359.45,281.14 L361.6,281.66 L363.75,282.18 L365.9,282.7 L368.04,283.21 L370.19,283.73 L372.34,284.24 L374.49,284.75 L376.63,285.26 L378.78,285.75 L380.93,286.24 L383.08,286.72 L385.22,287.19 L387.37,287.66 L389.52,288.13 L391.67,288.58 L393.81,289.03 L395.96,289.48 L398.11,289.93 L400.26,290.37 L402.4,290.8 L404.55,291.24 L406.7,291.67 L408.85,292.1 L410.99,292.53 L413.14,292.96 L415.29,293.38 L417.44,293.8 L419.58,294.21 L421.73,294.63 L423.88,295.04 L426.03,295.44 L428.17,295.85 L430.32,296.25 L432.47,296.64 L434.62,297.03 L436.76,297.42 L438.91,297.81 L441.06,298.19 L443.21,298.57 L445.35,298.95 L447.5,299.32" class="lm"/>
<circle cx="260.88" cy="197.13" r="1.1" class="dot"/>
<circle cx="262.77" cy="206.43" r="1.1" class="dot"/>
<circle cx="268.43" cy="222.95" r="1.1" class="dot"/>
<circle cx="277.85" cy="237.48" r="1.1" class="dot"/>
<circle cx="296.7" cy="254.74" r="1.1" class="dot"/>
<circle cx="315.55" cy="265.51" r="1.1" class="dot"/>
<circle cx="334.4" cy="273.92" r="1.1" class="dot"/>
<circle cx="353.25" cy="279.57" r="1.1" class="dot"/>
<circle cx="372.1" cy="284.19" r="1.1" class="dot"/>
<circle cx="390.95" cy="288.43" r="1.1" class="dot"/>
<circle cx="409.8" cy="292.29" r="1.1" class="dot"/>
<circle cx="428.65" cy="295.93" r="1.1" class="dot"/>
<circle cx="438.07" cy="297.66" r="1.1" class="dot"/>
<circle cx="445.62" cy="298.99" r="1.1" class="dot"/>
<rect x="261.35" y="211.52" width="3.2" height="3.2" class="ob"/>
<rect x="267.43" y="221.66" width="3.2" height="3.2" class="ob"/>
<rect x="273.51" y="225.3" width="3.2" height="3.2" class="ob"/>
<rect x="279.59" y="229.22" width="3.2" height="3.2" class="ob"/>
<rect x="285.67" y="239.35" width="3.2" height="3.2" class="ob"/>
<rect x="291.76" y="242.19" width="3.2" height="3.2" class="ob"/>
<rect x="297.84" y="253.67" width="3.2" height="3.2" class="ob"/>
<rect x="303.92" y="260.97" width="3.2" height="3.2" class="ob"/>
<rect x="310" y="262.05" width="3.2" height="3.2" class="ob"/>
<rect x="316.08" y="264.21" width="3.2" height="3.2" class="ob"/>
<rect x="322.16" y="269.35" width="3.2" height="3.2" class="ob"/>
<rect x="328.24" y="271.51" width="3.2" height="3.2" class="ob"/>
<rect x="334.32" y="272.18" width="3.2" height="3.2" class="ob"/>
<rect x="340.4" y="273.4" width="3.2" height="3.2" class="ob"/>
<rect x="346.48" y="274.62" width="3.2" height="3.2" class="ob"/>
<rect x="352.56" y="279.48" width="3.2" height="3.2" class="ob"/>
<rect x="358.64" y="280.96" width="3.2" height="3.2" class="ob"/>
<rect x="364.72" y="281.78" width="3.2" height="3.2" class="ob"/>
<rect x="370.8" y="282.32" width="3.2" height="3.2" class="ob"/>
<rect x="376.88" y="282.72" width="3.2" height="3.2" class="ob"/>
<rect x="382.97" y="284.88" width="3.2" height="3.2" class="ob"/>
<rect x="389.05" y="287.04" width="3.2" height="3.2" class="ob"/>
<rect x="395.13" y="287.99" width="3.2" height="3.2" class="ob"/>
<rect x="401.21" y="289.48" width="3.2" height="3.2" class="ob"/>
<rect x="407.29" y="291.5" width="3.2" height="3.2" class="ob"/>
<rect x="413.37" y="292.99" width="3.2" height="3.2" class="ob"/>
<rect x="419.45" y="294.61" width="3.2" height="3.2" class="ob"/>
<rect x="425.53" y="295.69" width="3.2" height="3.2" class="ob"/>
<rect x="431.61" y="296.1" width="3.2" height="3.2" class="ob"/>
<rect x="437.69" y="296.37" width="3.2" height="3.2" class="ob"/>
<rect x="443.77" y="297.85" width="3.2" height="3.2" class="ob"/>
</g>
<line x1="259" y1="323.5" x2="449.5" y2="323.5" class="ax"/>
<line x1="259" y1="323.5" x2="259" y2="186.4" class="ax"/>
<path d="M452.7,323.5 L448.1,321.8 L448.1,325.2 Z" fill="#111"/>
<path d="M259,184.1 L257.3,188 L260.7,188 Z" fill="#111"/>
<line x1="277.85" y1="322.3" x2="277.85" y2="324.7" class="tk"/>
<line x1="296.7" y1="322.3" x2="296.7" y2="324.7" class="tk"/>
<line x1="315.55" y1="322.3" x2="315.55" y2="324.7" class="tk"/>
<line x1="334.4" y1="322.3" x2="334.4" y2="324.7" class="tk"/>
<line x1="353.25" y1="322.3" x2="353.25" y2="324.7" class="tk"/>
<line x1="372.1" y1="322.3" x2="372.1" y2="324.7" class="tk"/>
<line x1="390.95" y1="322.3" x2="390.95" y2="324.7" class="tk"/>
<line x1="409.8" y1="322.3" x2="409.8" y2="324.7" class="tk"/>
<line x1="428.65" y1="322.3" x2="428.65" y2="324.7" class="tk"/>
<line x1="257.5" y1="309.99" x2="259.6" y2="309.99" class="tk"/>
<line x1="257.5" y1="296.48" x2="259.6" y2="296.48" class="tk"/>
<line x1="257.5" y1="282.97" x2="259.6" y2="282.97" class="tk"/>
<line x1="257.5" y1="269.46" x2="259.6" y2="269.46" class="tk"/>
<line x1="257.5" y1="255.95" x2="259.6" y2="255.95" class="tk"/>
<line x1="257.5" y1="242.44" x2="259.6" y2="242.44" class="tk"/>
<line x1="257.5" y1="228.93" x2="259.6" y2="228.93" class="tk"/>
<line x1="257.5" y1="215.42" x2="259.6" y2="215.42" class="tk"/>
<line x1="257.5" y1="201.91" x2="259.6" y2="201.91" class="tk"/>
<text x="259" y="331.8" class="tl" font-size="6.6" text-anchor="middle">0%</text>
<text x="296.7" y="331.8" class="tl" font-size="6.6" text-anchor="middle">20%</text>
<text x="334.4" y="331.8" class="tl" font-size="6.6" text-anchor="middle">40%</text>
<text x="372.1" y="331.8" class="tl" font-size="6.6" text-anchor="middle">60%</text>
<text x="409.8" y="331.8" class="tl" font-size="6.6" text-anchor="middle">80%</text>
<text x="447.5" y="331.8" class="tl" font-size="6.6" text-anchor="middle">100%</text>
<text x="256.8" y="325.9" class="tl" font-size="6.6" text-anchor="end">0</text>
<text x="256.8" y="298.88" class="tl" font-size="6.6" text-anchor="end">0.2</text>
<text x="256.8" y="271.86" class="tl" font-size="6.6" text-anchor="end">0.4</text>
<text x="256.8" y="244.84" class="tl" font-size="6.6" text-anchor="end">0.6</text>
<text x="256.8" y="217.82" class="tl" font-size="6.6" text-anchor="end">0.8</text>
<text x="256.8" y="190.8" class="tl" font-size="6.6" text-anchor="end">1</text>
<text x="353.25" y="343.7" class="tl" font-size="6.6" text-anchor="middle">Exceedence probability [%]</text>
<text transform="translate(240.3,256.45) rotate(-90)" class="tl" font-size="6.6" text-anchor="middle">Flow [m<tspan font-size="4.4" dy="-2.2">3</tspan><tspan dy="2.2">/s]</tspan></text>
<text x="345.05" y="360.4" class="cap" text-anchor="middle" textLength="59.1" lengthAdjust="spacing">(<tspan font-weight="bold">d</tspan>) Wakeby</text>
<rect x="352.8" y="189.2" width="93.8" height="59.7" fill="#fff"/>
<text transform="translate(365.8,198.75) scale(0.9,1)" class="lg" font-size="6.75">Observed data</text>
<rect x="357.35" y="195" width="3" height="3" class="ob"/>
<text transform="translate(365.8,206.7) scale(0.9,1)" class="lg" font-size="6.75">Wakeby:MOM</text>
<line x1="354.1" y1="204.5" x2="363.6" y2="204.5" class="mom"/>
<text transform="translate(365.8,214.65) scale(0.9,1)" class="lg" font-size="6.75">Wakeby:L-mom</text>
<line x1="354.1" y1="212.5" x2="363.6" y2="212.5" class="lm" stroke-width="1"/>
<circle cx="358.85" cy="212.5" r="1.2" class="dot"/>
<text transform="translate(365.8,222.6) scale(0.9,1)" class="lg" font-size="6.75">Wakeby:C.I (MOM:upper)</text>
<line x1="354.1" y1="220.5" x2="363.6" y2="220.5" class="cim" stroke-dasharray="5 2.4" stroke-width="1"/>
<text transform="translate(365.8,230.55) scale(0.9,1)" class="lg" font-size="6.75">Wakeby:C.I (MOM:lower)</text>
<line x1="354.1" y1="228.5" x2="363.6" y2="228.5" class="cim" stroke-dasharray="5 2.4" stroke-width="1"/>
<text transform="translate(365.8,238.5) scale(0.9,1)" class="lg" font-size="6.75">Wakeby:C.I (L-mom:upper)</text>
<line x1="354.1" y1="236.5" x2="363.6" y2="236.5" class="cil" stroke-dasharray="1.6 0.8" stroke-width="1" stroke="#a0a0a0"/>
<text transform="translate(365.8,246.45) scale(0.9,1)" class="lg" font-size="6.75">Wakeby:C.I (L-mom:lower)</text>
<line x1="354.1" y1="244.5" x2="363.6" y2="244.5" class="cil" stroke-dasharray="1.6 0.8" stroke-width="1" stroke="#a0a0a0"/>
<line x1="161.68" y1="368.4" x2="161.68" y2="506.5" class="gm"/>
<line x1="200.24" y1="368.4" x2="200.24" y2="506.5" class="gm"/>
<line x1="238.8" y1="368.4" x2="238.8" y2="506.5" class="gm"/>
<line x1="277.36" y1="368.4" x2="277.36" y2="506.5" class="gm"/>
<line x1="315.92" y1="368.4" x2="315.92" y2="506.5" class="gm"/>
<line x1="142.4" y1="492.69" x2="335.2" y2="492.69" class="gm"/>
<line x1="142.4" y1="465.07" x2="335.2" y2="465.07" class="gm"/>
<line x1="142.4" y1="437.45" x2="335.2" y2="437.45" class="gm"/>
<line x1="142.4" y1="409.83" x2="335.2" y2="409.83" class="gm"/>
<line x1="142.4" y1="382.21" x2="335.2" y2="382.21" class="gm"/>
<line x1="180.96" y1="368.4" x2="180.96" y2="506.5" class="gM"/>
<line x1="219.52" y1="368.4" x2="219.52" y2="506.5" class="gM"/>
<line x1="258.08" y1="368.4" x2="258.08" y2="506.5" class="gM"/>
<line x1="296.64" y1="368.4" x2="296.64" y2="506.5" class="gM"/>
<line x1="142.4" y1="478.88" x2="335.2" y2="478.88" class="gM"/>
<line x1="142.4" y1="451.26" x2="335.2" y2="451.26" class="gM"/>
<line x1="142.4" y1="423.64" x2="335.2" y2="423.64" class="gM"/>
<line x1="142.4" y1="396.02" x2="335.2" y2="396.02" class="gM"/>
<path d="M142.4,368.4 L335.2,368.4 L335.2,506.5" class="bd"/>
<g clip-path="url(#clipLambda)">
<path d="M145.22,368.4 L145.3,368.43 L145.39,368.79 L145.47,369.15 L145.56,369.53 L145.66,369.91 L145.75,370.3 L145.85,370.71 L145.96,371.12 L146.06,371.55 L146.17,371.98 L146.28,372.43 L146.4,372.88 L146.51,373.35 L146.64,373.83 L146.76,374.32 L146.89,374.82 L147.02,375.33 L147.16,375.86 L147.3,376.39 L147.44,376.94 L147.59,377.51 L147.75,378.08 L147.91,378.67 L148.07,379.27 L148.24,379.88 L148.41,380.51 L148.59,381.15 L148.77,381.8 L148.96,382.46 L149.15,383.14 L149.35,383.84 L149.56,384.54 L149.77,385.26 L149.99,385.99 L150.21,386.74 L150.44,387.49 L150.68,388.27 L150.92,389.05 L151.18,389.85 L151.44,390.65 L151.7,391.47 L151.98,392.31 L152.26,393.15 L152.55,394 L152.85,394.87 L153.16,395.74 L153.48,396.63 L153.81,397.52 L154.15,398.42 L154.49,399.33 L154.85,400.24 L155.22,401.16 L155.6,402.08 L155.99,403 L156.39,403.93 L156.81,404.85 L157.23,405.78 L157.67,406.7 L158.12,407.61 L158.59,408.52 L159.07,409.42 L159.56,410.31 L160.07,411.18 L160.59,412.04 L161.13,412.88 L161.68,413.7 L163.88,416.68 L166.07,419.37 L168.27,421.79 L170.47,423.98 L172.66,425.96 L174.86,427.76 L177.06,429.42 L179.25,430.97 L181.45,432.43 L183.64,433.78 L185.84,434.97 L188.04,436.05 L190.23,437.08 L192.43,438.1 L194.63,439.17 L196.82,440.33 L199.02,441.54 L201.22,442.79 L203.41,444.05 L205.61,445.32 L207.81,446.58 L210,447.8 L212.2,448.98 L214.39,450.1 L216.59,451.14 L218.79,452.08 L220.98,452.92 L223.18,453.74 L225.38,454.53 L227.57,455.29 L229.77,456.02 L231.97,456.73 L234.16,457.42 L236.36,458.09 L238.56,458.73 L240.75,459.36 L242.95,459.96 L245.15,460.55 L247.34,461.12 L249.54,461.67 L251.73,462.21 L253.93,462.73 L256.13,463.24 L258.32,463.74 L260.52,464.23 L262.72,464.7 L264.91,465.15 L267.11,465.59 L269.31,466.01 L271.5,466.43 L273.7,466.83 L275.9,467.23 L278.09,467.61 L280.29,467.99 L282.49,468.37 L284.68,468.74 L286.88,469.11 L289.07,469.47 L291.27,469.84 L293.47,470.2 L295.66,470.57 L297.86,470.94 L300.06,471.3 L302.25,471.65 L304.45,472 L306.65,472.34 L308.84,472.67 L311.04,473 L313.24,473.33 L315.43,473.65 L317.63,473.98 L319.82,474.29 L322.02,474.61 L324.22,474.92 L326.41,475.22 L328.61,475.52 L330.81,475.82 L333,476.11 L335.2,476.39" class="cil"/>
<path d="M144.33,386.35 L144.39,386.45 L144.44,386.54 L144.5,386.64 L144.57,386.74 L144.63,386.85 L144.7,386.96 L144.76,387.07 L144.83,387.19 L144.91,387.32 L144.98,387.45 L145.06,387.59 L145.14,387.74 L145.22,387.88 L145.3,388.04 L145.39,388.2 L145.47,388.36 L145.56,388.54 L145.66,388.72 L145.75,388.9 L145.85,389.09 L145.96,389.29 L146.06,389.5 L146.17,389.72 L146.28,389.94 L146.4,390.17 L146.51,390.41 L146.64,390.66 L146.76,390.92 L146.89,391.19 L147.02,391.46 L147.16,391.75 L147.3,392.05 L147.44,392.36 L147.59,392.68 L147.75,393.02 L147.91,393.37 L148.07,393.72 L148.24,394.1 L148.41,394.48 L148.59,394.88 L148.77,395.3 L148.96,395.73 L149.15,396.17 L149.35,396.63 L149.56,397.11 L149.77,397.6 L149.99,398.12 L150.21,398.64 L150.44,399.19 L150.68,399.75 L150.92,400.33 L151.18,400.93 L151.44,401.55 L151.7,402.19 L151.98,402.85 L152.26,403.53 L152.55,404.22 L152.85,404.94 L153.16,405.67 L153.48,406.42 L153.81,407.19 L154.15,407.98 L154.49,408.78 L154.85,409.6 L155.22,410.43 L155.6,411.27 L155.99,412.13 L156.39,412.99 L156.81,413.86 L157.23,414.74 L157.67,415.61 L158.12,416.48 L158.59,417.35 L159.07,418.2 L159.56,419.03 L160.07,419.84 L160.59,420.61 L161.13,421.35 L161.68,422.05 L163.88,424.67 L166.07,427.05 L168.27,429.23 L170.47,431.23 L172.66,433.08 L174.86,434.82 L177.06,436.46 L179.25,438.04 L181.45,439.6 L183.64,441.08 L185.84,442.46 L188.04,443.76 L190.23,445 L192.43,446.22 L194.63,447.44 L196.82,448.68 L199.02,449.94 L201.22,451.21 L203.41,452.47 L205.61,453.71 L207.81,454.93 L210,456.12 L212.2,457.27 L214.39,458.36 L216.59,459.39 L218.79,460.35 L220.98,461.24 L223.18,462.09 L225.38,462.92 L227.57,463.71 L229.77,464.48 L231.97,465.23 L234.16,465.95 L236.36,466.66 L238.56,467.35 L240.75,468.02 L242.95,468.67 L245.15,469.31 L247.34,469.94 L249.54,470.57 L251.73,471.18 L253.93,471.79 L256.13,472.4 L258.32,473.01 L260.52,473.61 L262.72,474.2 L264.91,474.77 L267.11,475.34 L269.31,475.9 L271.5,476.45 L273.7,476.99 L275.9,477.52 L278.09,478.05 L280.29,478.57 L282.49,479.09 L284.68,479.6 L286.88,480.11 L289.07,480.61 L291.27,481.11 L293.47,481.61 L295.66,482.11 L297.86,482.61 L300.06,483.09 L302.25,483.57 L304.45,484.04 L306.65,484.51 L308.84,484.97 L311.04,485.42 L313.24,485.88 L315.43,486.33 L317.63,486.77 L319.82,487.22 L322.02,487.66 L324.22,488.09 L326.41,488.52 L328.61,488.95 L330.81,489.37 L333,489.79 L335.2,490.2" class="cil"/>
<path d="M147.02,368.4 L147.16,368.78 L147.3,369.35 L147.44,369.9 L147.59,370.44 L147.75,370.99 L147.91,371.55 L148.07,372.12 L148.24,372.7 L148.41,373.28 L148.59,373.88 L148.77,374.49 L148.96,375.11 L149.15,375.74 L149.35,376.37 L149.56,377.02 L149.77,377.67 L149.99,378.33 L150.21,379 L150.44,379.68 L150.68,380.37 L150.92,381.06 L151.18,381.77 L151.44,382.47 L151.7,383.19 L151.98,383.91 L152.26,384.64 L152.55,385.37 L152.85,386.11 L153.16,386.86 L153.48,387.61 L153.81,388.36 L154.15,389.12 L154.49,389.88 L154.85,390.65 L155.22,391.41 L155.6,392.19 L155.99,392.96 L156.39,393.74 L156.81,394.51 L157.23,395.3 L157.67,396.08 L158.12,396.87 L158.59,397.66 L159.07,398.46 L159.56,399.26 L160.07,400.06 L160.59,400.88 L161.13,401.7 L161.68,402.54 L163.88,405.63 L166.07,408.44 L168.27,410.99 L170.47,413.35 L172.66,415.56 L174.86,417.66 L177.06,419.71 L179.25,421.75 L181.45,423.83 L183.64,425.93 L185.84,427.99 L188.04,429.98 L190.23,431.87 L192.43,433.64 L194.63,435.24 L196.82,436.7 L199.02,438.11 L201.22,439.46 L203.41,440.76 L205.61,442.01 L207.81,443.2 L210,444.32 L212.2,445.39 L214.39,446.4 L216.59,447.34 L218.79,448.22 L220.98,449.04 L223.18,449.82 L225.38,450.57 L227.57,451.29 L229.77,451.98 L231.97,452.64 L234.16,453.28 L236.36,453.9 L238.56,454.5 L240.75,455.08 L242.95,455.64 L245.15,456.19 L247.34,456.73 L249.54,457.26 L251.73,457.78 L253.93,458.3 L256.13,458.81 L258.32,459.33 L260.52,459.83 L262.72,460.32 L264.91,460.79 L267.11,461.25 L269.31,461.7 L271.5,462.14 L273.7,462.58 L275.9,463 L278.09,463.42 L280.29,463.84 L282.49,464.26 L284.68,464.68 L286.88,465.09 L289.07,465.51 L291.27,465.94 L293.47,466.37 L295.66,466.81 L297.86,467.25 L300.06,467.7 L302.25,468.15 L304.45,468.6 L306.65,469.05 L308.84,469.5 L311.04,469.95 L313.24,470.41 L315.43,470.87 L317.63,471.32 L319.82,471.78 L322.02,472.24 L324.22,472.7 L326.41,473.16 L328.61,473.62 L330.81,474.08 L333,474.55 L335.2,475.01" class="cim"/>
<path d="M144.33,396.02 L144.39,396.13 L144.44,396.24 L144.5,396.36 L144.57,396.47 L144.63,396.6 L144.7,396.72 L144.76,396.85 L144.83,396.99 L144.91,397.12 L144.98,397.27 L145.06,397.42 L145.14,397.57 L145.22,397.73 L145.3,397.9 L145.39,398.07 L145.47,398.24 L145.56,398.43 L145.66,398.61 L145.75,398.81 L145.85,399.01 L145.96,399.22 L146.06,399.44 L146.17,399.66 L146.28,399.89 L146.4,400.13 L146.51,400.38 L146.64,400.63 L146.76,400.9 L146.89,401.17 L147.02,401.46 L147.16,401.75 L147.3,402.05 L147.44,402.37 L147.59,402.69 L147.75,403.03 L147.91,403.37 L148.07,403.73 L148.24,404.1 L148.41,404.48 L148.59,404.88 L148.77,405.29 L148.96,405.71 L149.15,406.15 L149.35,406.6 L149.56,407.06 L149.77,407.54 L149.99,408.04 L150.21,408.54 L150.44,409.07 L150.68,409.61 L150.92,410.17 L151.18,410.74 L151.44,411.33 L151.7,411.94 L151.98,412.56 L152.26,413.2 L152.55,413.86 L152.85,414.53 L153.16,415.22 L153.48,415.92 L153.81,416.64 L154.15,417.37 L154.49,418.11 L154.85,418.87 L155.22,419.64 L155.6,420.42 L155.99,421.21 L156.39,422.01 L156.81,422.81 L157.23,423.61 L157.67,424.41 L158.12,425.21 L158.59,426 L159.07,426.77 L159.56,427.53 L160.07,428.27 L160.59,428.98 L161.13,429.66 L161.68,430.3 L163.88,432.74 L166.07,435 L168.27,437.09 L170.47,439 L172.66,440.75 L174.86,442.33 L177.06,443.75 L179.25,445.01 L181.45,446.11 L183.64,447.04 L185.84,447.81 L188.04,448.49 L190.23,449.13 L192.43,449.8 L194.63,450.55 L196.82,451.43 L199.02,452.39 L201.22,453.41 L203.41,454.48 L205.61,455.58 L207.81,456.7 L210,457.81 L212.2,458.9 L214.39,459.95 L216.59,460.95 L218.79,461.88 L220.98,462.74 L223.18,463.57 L225.38,464.38 L227.57,465.17 L229.77,465.95 L231.97,466.7 L234.16,467.45 L236.36,468.17 L238.56,468.89 L240.75,469.59 L242.95,470.27 L245.15,470.95 L247.34,471.61 L249.54,472.27 L251.73,472.91 L253.93,473.55 L256.13,474.18 L258.32,474.81 L260.52,475.42 L262.72,476.01 L264.91,476.59 L267.11,477.15 L269.31,477.71 L271.5,478.25 L273.7,478.79 L275.9,479.32 L278.09,479.84 L280.29,480.37 L282.49,480.89 L284.68,481.42 L286.88,481.95 L289.07,482.48 L291.27,483.03 L293.47,483.58 L295.66,484.15 L297.86,484.73 L300.06,485.32 L302.25,485.91 L304.45,486.52 L306.65,487.13 L308.84,487.73 L311.04,488.34 L313.24,488.95 L315.43,489.57 L317.63,490.18 L319.82,490.8 L322.02,491.42 L324.22,492.04 L326.41,492.66 L328.61,493.28 L330.81,493.91 L333,494.54 L335.2,495.18" class="cim"/>
<path d="M144.33,372.54 L144.39,372.94 L144.44,373.35 L144.5,373.76 L144.57,374.19 L144.63,374.64 L144.7,375.09 L144.76,375.55 L144.83,376.03 L144.91,376.52 L144.98,377.02 L145.06,377.53 L145.14,378.06 L145.22,378.59 L145.3,379.14 L145.39,379.7 L145.47,380.27 L145.56,380.85 L145.66,381.44 L145.75,382.04 L145.85,382.64 L145.96,383.26 L146.06,383.88 L146.17,384.5 L146.28,385.13 L146.4,385.77 L146.51,386.4 L146.64,387.03 L146.76,387.65 L146.89,388.27 L147.02,388.88 L147.16,389.48 L147.3,390.06 L147.44,390.62 L147.59,391.17 L147.75,391.73 L147.91,392.29 L148.07,392.85 L148.24,393.42 L148.41,393.99 L148.59,394.56 L148.77,395.14 L148.96,395.71 L149.15,396.29 L149.35,396.86 L149.56,397.44 L149.77,398.02 L149.99,398.6 L150.21,399.17 L150.44,399.75 L150.68,400.33 L150.92,400.91 L151.18,401.48 L151.44,402.06 L151.7,402.64 L151.98,403.22 L152.26,403.8 L152.55,404.39 L152.85,404.98 L153.16,405.58 L153.48,406.18 L153.81,406.79 L154.15,407.39 L154.49,408 L154.85,408.62 L155.22,409.23 L155.6,409.85 L155.99,410.46 L156.39,411.08 L156.81,411.7 L157.23,412.33 L157.67,412.95 L158.12,413.57 L158.59,414.2 L159.07,414.83 L159.56,415.46 L160.07,416.09 L160.59,416.72 L161.13,417.37 L161.68,418.01 L163.88,420.49 L166.07,422.82 L168.27,425.02 L170.47,427.11 L172.66,429.08 L174.86,430.96 L177.06,432.76 L179.25,434.48 L181.45,436.14 L183.64,437.73 L185.84,439.26 L188.04,440.7 L190.23,442.07 L192.43,443.35 L194.63,444.56 L196.82,445.69 L199.02,446.78 L201.22,447.83 L203.41,448.84 L205.61,449.82 L207.81,450.76 L210,451.67 L212.2,452.55 L214.39,453.4 L216.59,454.21 L218.79,455.01 L220.98,455.77 L223.18,456.52 L225.38,457.25 L227.57,457.97 L229.77,458.66 L231.97,459.34 L234.16,460.01 L236.36,460.65 L238.56,461.29 L240.75,461.91 L242.95,462.52 L245.15,463.12 L247.34,463.71 L249.54,464.29 L251.73,464.85 L253.93,465.41 L256.13,465.97 L258.32,466.51 L260.52,467.04 L262.72,467.56 L264.91,468.07 L267.11,468.56 L269.31,469.04 L271.5,469.52 L273.7,469.98 L275.9,470.44 L278.09,470.9 L280.29,471.35 L282.49,471.8 L284.68,472.25 L286.88,472.69 L289.07,473.15 L291.27,473.6 L293.47,474.06 L295.66,474.53 L297.86,475 L300.06,475.48 L302.25,475.97 L304.45,476.45 L306.65,476.92 L308.84,477.37 L311.04,477.82 L313.24,478.26 L315.43,478.69 L317.63,479.12 L319.82,479.54 L322.02,479.96 L324.22,480.38 L326.41,480.78 L328.61,481.18 L330.81,481.57 L333,481.96 L335.2,482.33" class="mom"/>
<path d="M144.33,375.3 L144.39,375.65 L144.44,376 L144.5,376.37 L144.57,376.74 L144.63,377.13 L144.7,377.52 L144.76,377.93 L144.83,378.34 L144.91,378.77 L144.98,379.2 L145.06,379.65 L145.14,380.11 L145.22,380.58 L145.3,381.05 L145.39,381.54 L145.47,382.04 L145.56,382.54 L145.66,383.06 L145.75,383.59 L145.85,384.12 L145.96,384.66 L146.06,385.21 L146.17,385.76 L146.28,386.32 L146.4,386.88 L146.51,387.44 L146.64,388.01 L146.76,388.57 L146.89,389.13 L147.02,389.69 L147.16,390.24 L147.3,390.77 L147.44,391.3 L147.59,391.82 L147.75,392.35 L147.91,392.89 L148.07,393.43 L148.24,393.97 L148.41,394.52 L148.59,395.07 L148.77,395.62 L148.96,396.18 L149.15,396.74 L149.35,397.31 L149.56,397.87 L149.77,398.44 L149.99,399.01 L150.21,399.58 L150.44,400.16 L150.68,400.73 L150.92,401.31 L151.18,401.88 L151.44,402.46 L151.7,403.04 L151.98,403.63 L152.26,404.21 L152.55,404.8 L152.85,405.4 L153.16,405.99 L153.48,406.6 L153.81,407.2 L154.15,407.81 L154.49,408.43 L154.85,409.05 L155.22,409.67 L155.6,410.29 L155.99,410.92 L156.39,411.55 L156.81,412.18 L157.23,412.81 L157.67,413.44 L158.12,414.08 L158.59,414.71 L159.07,415.35 L159.56,415.99 L160.07,416.63 L160.59,417.27 L161.13,417.92 L161.68,418.57 L163.88,421.04 L166.07,423.37 L168.27,425.57 L170.47,427.64 L172.66,429.6 L174.86,431.47 L177.06,433.24 L179.25,434.93 L181.45,436.55 L183.64,438.11 L185.84,439.58 L188.04,440.97 L190.23,442.28 L192.43,443.52 L194.63,444.7 L196.82,445.81 L199.02,446.89 L201.22,447.94 L203.41,448.95 L205.61,449.93 L207.81,450.88 L210,451.79 L212.2,452.67 L214.39,453.53 L216.59,454.35 L218.79,455.14 L220.98,455.91 L223.18,456.66 L225.38,457.39 L227.57,458.1 L229.77,458.8 L231.97,459.48 L234.16,460.14 L236.36,460.79 L238.56,461.43 L240.75,462.05 L242.95,462.66 L245.15,463.26 L247.34,463.85 L249.54,464.42 L251.73,464.99 L253.93,465.55 L256.13,466.1 L258.32,466.65 L260.52,467.18 L262.72,467.7 L264.91,468.2 L267.11,468.7 L269.31,469.18 L271.5,469.65 L273.7,470.12 L275.9,470.58 L278.09,471.03 L280.29,471.49 L282.49,471.93 L284.68,472.38 L286.88,472.83 L289.07,473.28 L291.27,473.74 L293.47,474.2 L295.66,474.67 L297.86,475.14 L300.06,475.62 L302.25,476.11 L304.45,476.59 L306.65,477.06 L308.84,477.51 L311.04,477.95 L313.24,478.39 L315.43,478.83 L317.63,479.26 L319.82,479.68 L322.02,480.1 L324.22,480.51 L326.41,480.92 L328.61,481.32 L330.81,481.71 L333,482.09 L335.2,482.47" class="lm"/>
<circle cx="144.33" cy="375.3" r="1.1" class="dot"/>
<circle cx="146.26" cy="386.19" r="1.1" class="dot"/>
<circle cx="152.04" cy="403.76" r="1.1" class="dot"/>
<circle cx="161.68" cy="418.57" r="1.1" class="dot"/>
<circle cx="180.96" cy="436.2" r="1.1" class="dot"/>
<circle cx="200.24" cy="447.48" r="1.1" class="dot"/>
<circle cx="219.52" cy="455.4" r="1.1" class="dot"/>
<circle cx="238.8" cy="461.5" r="1.1" class="dot"/>
<circle cx="258.08" cy="466.59" r="1.1" class="dot"/>
<circle cx="277.36" cy="470.88" r="1.1" class="dot"/>
<circle cx="296.64" cy="474.88" r="1.1" class="dot"/>
<circle cx="315.92" cy="478.92" r="1.1" class="dot"/>
<circle cx="325.56" cy="480.76" r="1.1" class="dot"/>
<circle cx="333.27" cy="482.14" r="1.1" class="dot"/>
<rect x="144.84" y="392.07" width="3.2" height="3.2" class="ob"/>
<rect x="151.06" y="402.43" width="3.2" height="3.2" class="ob"/>
<rect x="157.28" y="406.16" width="3.2" height="3.2" class="ob"/>
<rect x="163.5" y="410.16" width="3.2" height="3.2" class="ob"/>
<rect x="169.72" y="420.52" width="3.2" height="3.2" class="ob"/>
<rect x="175.94" y="423.42" width="3.2" height="3.2" class="ob"/>
<rect x="182.16" y="435.16" width="3.2" height="3.2" class="ob"/>
<rect x="188.38" y="442.62" width="3.2" height="3.2" class="ob"/>
<rect x="194.6" y="443.72" width="3.2" height="3.2" class="ob"/>
<rect x="200.82" y="445.93" width="3.2" height="3.2" class="ob"/>
<rect x="207.04" y="451.18" width="3.2" height="3.2" class="ob"/>
<rect x="213.26" y="453.39" width="3.2" height="3.2" class="ob"/>
<rect x="219.47" y="454.08" width="3.2" height="3.2" class="ob"/>
<rect x="225.69" y="455.32" width="3.2" height="3.2" class="ob"/>
<rect x="231.91" y="456.56" width="3.2" height="3.2" class="ob"/>
<rect x="238.13" y="461.54" width="3.2" height="3.2" class="ob"/>
<rect x="244.35" y="463.06" width="3.2" height="3.2" class="ob"/>
<rect x="250.57" y="463.88" width="3.2" height="3.2" class="ob"/>
<rect x="256.79" y="464.44" width="3.2" height="3.2" class="ob"/>
<rect x="263.01" y="464.85" width="3.2" height="3.2" class="ob"/>
<rect x="269.23" y="467.06" width="3.2" height="3.2" class="ob"/>
<rect x="275.45" y="469.27" width="3.2" height="3.2" class="ob"/>
<rect x="281.67" y="470.24" width="3.2" height="3.2" class="ob"/>
<rect x="287.89" y="471.76" width="3.2" height="3.2" class="ob"/>
<rect x="294.11" y="473.83" width="3.2" height="3.2" class="ob"/>
<rect x="300.33" y="475.35" width="3.2" height="3.2" class="ob"/>
<rect x="306.55" y="477" width="3.2" height="3.2" class="ob"/>
<rect x="312.77" y="478.11" width="3.2" height="3.2" class="ob"/>
<rect x="318.98" y="478.52" width="3.2" height="3.2" class="ob"/>
<rect x="325.2" y="478.8" width="3.2" height="3.2" class="ob"/>
<rect x="331.42" y="480.32" width="3.2" height="3.2" class="ob"/>
</g>
<line x1="142.4" y1="506.5" x2="337.2" y2="506.5" class="ax"/>
<line x1="142.4" y1="506.5" x2="142.4" y2="366.4" class="ax"/>
<path d="M340.4,506.5 L335.8,504.8 L335.8,508.2 Z" fill="#111"/>
<path d="M142.4,364.1 L140.7,368 L144.1,368 Z" fill="#111"/>
<line x1="161.68" y1="505.3" x2="161.68" y2="507.7" class="tk"/>
<line x1="180.96" y1="505.3" x2="180.96" y2="507.7" class="tk"/>
<line x1="200.24" y1="505.3" x2="200.24" y2="507.7" class="tk"/>
<line x1="219.52" y1="505.3" x2="219.52" y2="507.7" class="tk"/>
<line x1="238.8" y1="505.3" x2="238.8" y2="507.7" class="tk"/>
<line x1="258.08" y1="505.3" x2="258.08" y2="507.7" class="tk"/>
<line x1="277.36" y1="505.3" x2="277.36" y2="507.7" class="tk"/>
<line x1="296.64" y1="505.3" x2="296.64" y2="507.7" class="tk"/>
<line x1="315.92" y1="505.3" x2="315.92" y2="507.7" class="tk"/>
<line x1="140.9" y1="492.69" x2="143" y2="492.69" class="tk"/>
<line x1="140.9" y1="478.88" x2="143" y2="478.88" class="tk"/>
<line x1="140.9" y1="465.07" x2="143" y2="465.07" class="tk"/>
<line x1="140.9" y1="451.26" x2="143" y2="451.26" class="tk"/>
<line x1="140.9" y1="437.45" x2="143" y2="437.45" class="tk"/>
<line x1="140.9" y1="423.64" x2="143" y2="423.64" class="tk"/>
<line x1="140.9" y1="409.83" x2="143" y2="409.83" class="tk"/>
<line x1="140.9" y1="396.02" x2="143" y2="396.02" class="tk"/>
<line x1="140.9" y1="382.21" x2="143" y2="382.21" class="tk"/>
<text x="142.4" y="514.97" class="tl" font-size="6.73" text-anchor="middle">0%</text>
<text x="180.96" y="514.97" class="tl" font-size="6.73" text-anchor="middle">20%</text>
<text x="219.52" y="514.97" class="tl" font-size="6.73" text-anchor="middle">40%</text>
<text x="258.08" y="514.97" class="tl" font-size="6.73" text-anchor="middle">60%</text>
<text x="296.64" y="514.97" class="tl" font-size="6.73" text-anchor="middle">80%</text>
<text x="335.2" y="514.97" class="tl" font-size="6.73" text-anchor="middle">100%</text>
<text x="140.2" y="508.9" class="tl" font-size="6.73" text-anchor="end">0</text>
<text x="140.2" y="481.28" class="tl" font-size="6.73" text-anchor="end">0.2</text>
<text x="140.2" y="453.66" class="tl" font-size="6.73" text-anchor="end">0.4</text>
<text x="140.2" y="426.04" class="tl" font-size="6.73" text-anchor="end">0.6</text>
<text x="140.2" y="398.42" class="tl" font-size="6.73" text-anchor="end">0.8</text>
<text x="140.2" y="370.8" class="tl" font-size="6.73" text-anchor="end">1</text>
<text x="238.8" y="527.9" class="tl" font-size="6.73" text-anchor="middle">Exceedence probability [%]</text>
<text transform="translate(123.7,437.95) rotate(-90)" class="tl" font-size="6.73" text-anchor="middle">Flow [m<tspan font-size="4.49" dy="-2.2">3</tspan><tspan dy="2.2">/s]</tspan></text>
<text x="230.7" y="543.8" class="cap" text-anchor="middle" textLength="58" lengthAdjust="spacing">(<tspan font-weight="bold">e</tspan>) Lambda</text>
<rect x="239.1" y="369.2" width="94.1" height="61.68" fill="#fff"/>
<text transform="translate(252.1,378.8) scale(0.9,1)" class="lg" font-size="6.88">Observed data</text>
<rect x="243.65" y="375" width="3" height="3" class="ob"/>
<text transform="translate(252.1,387.08) scale(0.9,1)" class="lg" font-size="6.88">Lambda:MOM</text>
<line x1="240.4" y1="384.5" x2="249.9" y2="384.5" class="mom"/>
<text transform="translate(252.1,395.36) scale(0.9,1)" class="lg" font-size="6.88">Lambda:L-mom</text>
<line x1="240.4" y1="392.5" x2="249.9" y2="392.5" class="lm" stroke-width="1"/>
<circle cx="245.15" cy="392.5" r="1.2" class="dot"/>
<text transform="translate(252.1,403.64) scale(0.9,1)" class="lg" font-size="6.88">Lambda:C.I (MOM:upper)</text>
<line x1="240.4" y1="401.5" x2="249.9" y2="401.5" class="cim" stroke-dasharray="5 2.4" stroke-width="1"/>
<text transform="translate(252.1,411.92) scale(0.9,1)" class="lg" font-size="6.88">Lambda:C.I (MOM:lower)</text>
<line x1="240.4" y1="409.5" x2="249.9" y2="409.5" class="cim" stroke-dasharray="5 2.4" stroke-width="1"/>
<text transform="translate(252.1,420.2) scale(0.9,1)" class="lg" font-size="6.88">Lambda:C.I (L-mom:upper)</text>
<line x1="240.4" y1="417.5" x2="249.9" y2="417.5" class="cil" stroke-dasharray="1.6 0.8" stroke-width="1" stroke="#a0a0a0"/>
<text transform="translate(252.1,428.48) scale(0.9,1)" class="lg" font-size="6.88">Lambda:C.I (L-mom:lower)</text>
<line x1="240.4" y1="426.5" x2="249.9" y2="426.5" class="cil" stroke-dasharray="1.6 0.8" stroke-width="1" stroke="#a0a0a0"/>
</svg>
</body></html>
